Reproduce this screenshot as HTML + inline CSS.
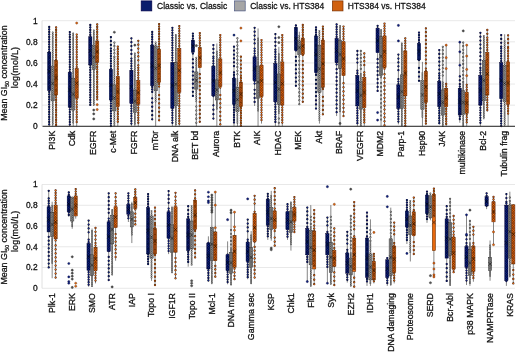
<!DOCTYPE html>
<html><head><meta charset="utf-8"><title>Figure</title>
<style>
html,body{margin:0;padding:0;background:#fff}
body{width:520px;height:352px;overflow:hidden}
svg{display:block}
.t{font-family:"Liberation Sans",Arial,Helvetica,sans-serif;font-size:8.4px;fill:#111}
.x{font-family:"Liberation Sans",Arial,Helvetica,sans-serif;font-size:8.75px;fill:#111}
.y{font-family:"Liberation Sans",Arial,Helvetica,sans-serif;font-size:8.87px;fill:#111}
.l{font-family:"Liberation Sans",Arial,Helvetica,sans-serif;font-size:9.7px;fill:#111}
path{fill:none;stroke-linecap:round}
.n{stroke:#0e2388;stroke-width:1.35}.no{stroke:#00001a;stroke-width:2.25}
.g{stroke:#c8c8c8;stroke-width:.95}.go{stroke:#303030;stroke-width:1.8}
.h{stroke:#a8a8a8;stroke-width:1.2}.ho{stroke:#303030;stroke-width:2.1}
.e{stroke:#ee6c10;stroke-width:1.35}.eo{stroke:#3a1500;stroke-width:2.25}
text{stroke:#111;stroke-width:.28px}
</style></head><body>
<svg width="520" height="352" viewBox="0 0 520 352">
<defs><filter id="b" x="0" y="0" width="520" height="352" filterUnits="userSpaceOnUse"><feGaussianBlur stdDeviation=".32"/></filter></defs>
<rect x="141.2" y="0.9" width="10.6" height="10" fill="#0a1d6c" stroke="#00004a" stroke-width=".7"/>
<text transform="translate(157.0,9.2) scale(.875,1)" class="l">Classic vs. Classic</text>
<rect x="234.6" y="0.9" width="10.6" height="10" fill="#a6a6a6" stroke="#4a5680" stroke-width=".7"/>
<text transform="translate(250.2,9.2) scale(.875,1)" class="l">Classic vs. HTS384</text>
<rect x="332.4" y="0.9" width="10.6" height="10" fill="#d0600f" stroke="#7a3000" stroke-width=".7"/>
<text transform="translate(347.8,9.2) scale(.875,1)" class="l">HTS384 vs. HTS384</text>
<g filter="url(#b)">
<line x1="42.0" x2="515.0" y1="126.29" y2="126.29" stroke="#e2e2e2" stroke-width=".8"/>
<line x1="42.0" x2="515.0" y1="105.17" y2="105.17" stroke="#e2e2e2" stroke-width=".8"/>
<line x1="42.0" x2="515.0" y1="84.05" y2="84.05" stroke="#e2e2e2" stroke-width=".8"/>
<line x1="42.0" x2="515.0" y1="62.93" y2="62.93" stroke="#e2e2e2" stroke-width=".8"/>
<line x1="42.0" x2="515.0" y1="41.82" y2="41.82" stroke="#e2e2e2" stroke-width=".8"/>
<line x1="42.0" x2="515.0" y1="20.70" y2="20.70" stroke="#e2e2e2" stroke-width=".8"/>
<line x1="42.0" x2="42.0" y1="20.70" y2="126.29" stroke="#d8d8d8" stroke-width=".8"/>
<text x="37.6" y="129.19" text-anchor="end" class="t">0</text>
<text x="37.6" y="108.07" text-anchor="end" class="t">0.2</text>
<text x="37.6" y="86.95" text-anchor="end" class="t">0.4</text>
<text x="37.6" y="65.83" text-anchor="end" class="t">0.6</text>
<text x="37.6" y="44.72" text-anchor="end" class="t">0.8</text>
<text x="37.6" y="23.60" text-anchor="end" class="t">1</text>
<line x1="49.20" x2="49.20" y1="26.92" y2="126.29" stroke="#222" stroke-width=".55"/>
<rect x="47.58" y="52.19" width="3.25" height="38.25" fill="#0c2080" stroke="#00002a" stroke-width=".45"/>
<path d="M49.2 26.9V124.5" class="no" stroke-dasharray="0 2.50"/>
<path d="M49.2 26.9V124.5" class="n" stroke-dasharray="0 2.50"/>
<path d="M47.80 69.71l2.8 3.2m0 -3.2l-2.8 3.2" stroke="#000" stroke-width=".5" opacity=".85"/>
<line x1="52.65" x2="52.65" y1="32.45" y2="126.29" stroke="#222" stroke-width=".55"/>
<rect x="51.03" y="66.09" width="3.25" height="34.74" fill="#9c9c9c" stroke="#1a1a1a" stroke-width=".45"/>
<path d="M52.7 32.5V125.6" class="go" stroke-dasharray="0 1.90"/>
<path d="M52.7 32.5V125.6" class="g" stroke-dasharray="0 1.90"/>
<path d="M51.25 81.86l2.8 3.2m0 -3.2l-2.8 3.2" stroke="#000" stroke-width=".5" opacity=".85"/>
<line x1="56.10" x2="56.10" y1="27.43" y2="126.29" stroke="#222" stroke-width=".55"/>
<rect x="54.48" y="60.56" width="3.25" height="34.40" fill="#e6670f" stroke="#4a1c00" stroke-width=".45"/>
<path d="M56.1 27.4V125.0" class="eo" stroke-dasharray="0 2.50"/>
<path d="M56.1 27.4V125.0" class="e" stroke-dasharray="0 2.50"/>
<path d="M54.70 76.16l2.8 3.2m0 -3.2l-2.8 3.2" stroke="#000" stroke-width=".5" opacity=".85"/>
<text transform="translate(54.75,130.79) rotate(-90) scale(1,1.06)" text-anchor="end" class="x" font-size="8.42">PI3K</text>
<line x1="69.80" x2="69.80" y1="32.12" y2="126.29" stroke="#222" stroke-width=".55"/>
<rect x="68.17" y="72.35" width="3.25" height="34.84" fill="#0c2080" stroke="#00002a" stroke-width=".45"/>
<path d="M69.8 32.1V124.7" class="no" stroke-dasharray="0 2.50"/>
<path d="M69.8 32.1V124.7" class="n" stroke-dasharray="0 2.50"/>
<path d="M68.40 88.17l2.8 3.2m0 -3.2l-2.8 3.2" stroke="#000" stroke-width=".5" opacity=".85"/>
<line x1="73.25" x2="73.25" y1="33.29" y2="126.29" stroke="#222" stroke-width=".55"/>
<rect x="71.62" y="78.21" width="3.25" height="31.83" fill="#9c9c9c" stroke="#1a1a1a" stroke-width=".45"/>
<path d="M73.2 33.3V124.5" class="go" stroke-dasharray="0 1.90"/>
<path d="M73.2 33.3V124.5" class="g" stroke-dasharray="0 1.90"/>
<path d="M71.85 92.53l2.8 3.2m0 -3.2l-2.8 3.2" stroke="#000" stroke-width=".5" opacity=".85"/>
<line x1="76.70" x2="76.70" y1="34.46" y2="126.29" stroke="#222" stroke-width=".55"/>
<rect x="75.08" y="68.60" width="3.25" height="29.71" fill="#e6670f" stroke="#4a1c00" stroke-width=".45"/>
<path d="M76.7 34.5V124.5" class="eo" stroke-dasharray="0 2.50"/>
<path d="M76.7 34.5V124.5" class="e" stroke-dasharray="0 2.50"/>
<circle cx="76.70" cy="23.04" r="1.1" fill="#e6670f" stroke="#4a1c00" stroke-width=".35"/>
<path d="M75.30 81.86l2.8 3.2m0 -3.2l-2.8 3.2" stroke="#000" stroke-width=".5" opacity=".85"/>
<text transform="translate(75.35,130.79) rotate(-90) scale(1,1.06)" text-anchor="end" class="x" font-size="8.42">Cdk</text>
<line x1="90.30" x2="90.30" y1="24.91" y2="105.15" stroke="#222" stroke-width=".55"/>
<rect x="88.67" y="36.78" width="3.25" height="28.14" fill="#0c2080" stroke="#00002a" stroke-width=".45"/>
<path d="M90.3 24.9V105.0" class="no" stroke-dasharray="0 2.50"/>
<path d="M90.3 24.9V105.0" class="n" stroke-dasharray="0 2.50"/>
<path d="M88.90 49.25l2.8 3.2m0 -3.2l-2.8 3.2" stroke="#000" stroke-width=".5" opacity=".85"/>
<line x1="93.75" x2="93.75" y1="30.44" y2="105.99" stroke="#222" stroke-width=".55"/>
<rect x="92.12" y="45.15" width="3.25" height="24.29" fill="#9c9c9c" stroke="#1a1a1a" stroke-width=".45"/>
<path d="M93.8 30.4V104.6" class="go" stroke-dasharray="0 1.90"/>
<path d="M93.8 30.4V104.6" class="g" stroke-dasharray="0 1.90"/>
<circle cx="93.75" cy="110.04" r="1.1" fill="#555" stroke="#1a1a1a" stroke-width=".35"/>
<circle cx="93.75" cy="113.89" r="1.1" fill="#555" stroke="#1a1a1a" stroke-width=".35"/>
<circle cx="93.75" cy="118.92" r="1.1" fill="#555" stroke="#1a1a1a" stroke-width=".35"/>
<path d="M92.35 55.69l2.8 3.2m0 -3.2l-2.8 3.2" stroke="#000" stroke-width=".5" opacity=".85"/>
<line x1="97.20" x2="97.20" y1="24.41" y2="100.13" stroke="#222" stroke-width=".55"/>
<rect x="95.58" y="40.96" width="3.25" height="21.27" fill="#e6670f" stroke="#4a1c00" stroke-width=".45"/>
<path d="M97.2 24.4V99.5" class="eo" stroke-dasharray="0 2.50"/>
<path d="M97.2 24.4V99.5" class="e" stroke-dasharray="0 2.50"/>
<circle cx="97.20" cy="104.68" r="1.1" fill="#e6670f" stroke="#4a1c00" stroke-width=".35"/>
<circle cx="97.20" cy="109.54" r="1.1" fill="#e6670f" stroke="#4a1c00" stroke-width=".35"/>
<path d="M95.80 50.00l2.8 3.2m0 -3.2l-2.8 3.2" stroke="#000" stroke-width=".5" opacity=".85"/>
<text transform="translate(95.85,130.79) rotate(-90) scale(1,1.06)" text-anchor="end" class="x" font-size="8.42">EGFR</text>
<line x1="110.90" x2="110.90" y1="37.14" y2="126.29" stroke="#222" stroke-width=".55"/>
<rect x="109.28" y="69.44" width="3.25" height="30.55" fill="#0c2080" stroke="#00002a" stroke-width=".45"/>
<path d="M110.9 37.1V45.0" class="no" stroke-dasharray="0 3.90"/>
<path d="M110.9 37.1V45.0" class="n" stroke-dasharray="0 3.90"/>
<path d="M110.9 48.5V126.1" class="no" stroke-dasharray="0 2.50"/>
<path d="M110.9 48.5V126.1" class="n" stroke-dasharray="0 2.50"/>
<path d="M109.50 83.11l2.8 3.2m0 -3.2l-2.8 3.2" stroke="#000" stroke-width=".5" opacity=".85"/>
<line x1="114.35" x2="114.35" y1="42.50" y2="126.29" stroke="#222" stroke-width=".55"/>
<rect x="112.73" y="84.91" width="3.25" height="25.96" fill="#9c9c9c" stroke="#1a1a1a" stroke-width=".45"/>
<path d="M114.4 42.5V57.0" class="ho" stroke-dasharray="0 3.60"/>
<path d="M114.4 42.5V57.0" class="h" stroke-dasharray="0 3.60"/>
<path d="M114.4 58.6V125.1" class="go" stroke-dasharray="0 1.90"/>
<path d="M114.4 58.6V125.1" class="g" stroke-dasharray="0 1.90"/>
<circle cx="114.35" cy="32.25" r="1.1" fill="#555" stroke="#1a1a1a" stroke-width=".35"/>
<path d="M112.95 96.29l2.8 3.2m0 -3.2l-2.8 3.2" stroke="#000" stroke-width=".5" opacity=".85"/>
<line x1="117.80" x2="117.80" y1="46.69" y2="126.29" stroke="#222" stroke-width=".55"/>
<rect x="116.18" y="76.54" width="3.25" height="30.15" fill="#e6670f" stroke="#4a1c00" stroke-width=".45"/>
<path d="M117.8 46.7V124.2" class="eo" stroke-dasharray="0 2.50"/>
<path d="M117.8 46.7V124.2" class="e" stroke-dasharray="0 2.50"/>
<path d="M116.40 90.01l2.8 3.2m0 -3.2l-2.8 3.2" stroke="#000" stroke-width=".5" opacity=".85"/>
<text transform="translate(116.45,130.79) rotate(-90) scale(1,1.06)" text-anchor="end" class="x" font-size="8.42">c-Met</text>
<line x1="131.40" x2="131.40" y1="38.31" y2="126.29" stroke="#222" stroke-width=".55"/>
<rect x="129.78" y="70.28" width="3.25" height="33.06" fill="#0c2080" stroke="#00002a" stroke-width=".45"/>
<path d="M131.4 38.3V54.0" class="no" stroke-dasharray="0 3.90"/>
<path d="M131.4 38.3V54.0" class="n" stroke-dasharray="0 3.90"/>
<path d="M131.4 58.6V126.1" class="no" stroke-dasharray="0 2.50"/>
<path d="M131.4 58.6V126.1" class="n" stroke-dasharray="0 2.50"/>
<path d="M130.00 85.21l2.8 3.2m0 -3.2l-2.8 3.2" stroke="#000" stroke-width=".5" opacity=".85"/>
<line x1="134.85" x2="134.85" y1="53.39" y2="126.29" stroke="#222" stroke-width=".55"/>
<rect x="133.22" y="89.94" width="3.25" height="22.61" fill="#9c9c9c" stroke="#1a1a1a" stroke-width=".45"/>
<path d="M134.8 53.4V125.6" class="go" stroke-dasharray="0 1.90"/>
<path d="M134.8 53.4V125.6" class="g" stroke-dasharray="0 1.90"/>
<circle cx="134.85" cy="45.15" r="1.1" fill="#555" stroke="#1a1a1a" stroke-width=".35"/>
<path d="M133.45 99.64l2.8 3.2m0 -3.2l-2.8 3.2" stroke="#000" stroke-width=".5" opacity=".85"/>
<line x1="138.30" x2="138.30" y1="40.83" y2="126.29" stroke="#222" stroke-width=".55"/>
<rect x="136.68" y="80.73" width="3.25" height="23.45" fill="#e6670f" stroke="#4a1c00" stroke-width=".45"/>
<path d="M138.3 40.8V60.4" class="eo" stroke-dasharray="0 3.90"/>
<path d="M138.3 40.8V60.4" class="e" stroke-dasharray="0 3.90"/>
<path d="M138.3 65.3V125.3" class="eo" stroke-dasharray="0 2.50"/>
<path d="M138.3 65.3V125.3" class="e" stroke-dasharray="0 2.50"/>
<path d="M136.90 90.85l2.8 3.2m0 -3.2l-2.8 3.2" stroke="#000" stroke-width=".5" opacity=".85"/>
<text transform="translate(136.95,130.79) rotate(-90) scale(1,1.06)" text-anchor="end" class="x" font-size="8.42">FGFR</text>
<line x1="152.20" x2="152.20" y1="31.95" y2="119.39" stroke="#222" stroke-width=".55"/>
<rect x="150.57" y="45.15" width="3.25" height="40.60" fill="#0c2080" stroke="#00002a" stroke-width=".45"/>
<path d="M152.2 31.9V92.0" class="no" stroke-dasharray="0 2.50"/>
<path d="M152.2 31.9V92.0" class="n" stroke-dasharray="0 2.50"/>
<path d="M152.2 98.3V119.4" class="no" stroke-dasharray="0 4.21"/>
<path d="M152.2 98.3V119.4" class="n" stroke-dasharray="0 4.21"/>
<path d="M150.80 63.85l2.8 3.2m0 -3.2l-2.8 3.2" stroke="#000" stroke-width=".5" opacity=".85"/>
<line x1="155.65" x2="155.65" y1="42.50" y2="126.29" stroke="#222" stroke-width=".55"/>
<rect x="154.02" y="45.99" width="3.25" height="44.79" fill="#9c9c9c" stroke="#1a1a1a" stroke-width=".45"/>
<path d="M155.6 42.5V101.5" class="go" stroke-dasharray="0 1.90"/>
<path d="M155.6 42.5V101.5" class="g" stroke-dasharray="0 1.90"/>
<path d="M154.25 66.78l2.8 3.2m0 -3.2l-2.8 3.2" stroke="#000" stroke-width=".5" opacity=".85"/>
<line x1="159.10" x2="159.10" y1="24.08" y2="120.23" stroke="#222" stroke-width=".55"/>
<rect x="157.47" y="49.34" width="3.25" height="33.06" fill="#e6670f" stroke="#4a1c00" stroke-width=".45"/>
<path d="M159.1 24.1V89.1" class="eo" stroke-dasharray="0 2.50"/>
<path d="M159.1 24.1V89.1" class="e" stroke-dasharray="0 2.50"/>
<path d="M159.1 95.0V120.3" class="eo" stroke-dasharray="0 4.21"/>
<path d="M159.1 95.0V120.3" class="e" stroke-dasharray="0 4.21"/>
<path d="M157.70 64.27l2.8 3.2m0 -3.2l-2.8 3.2" stroke="#000" stroke-width=".5" opacity=".85"/>
<text transform="translate(157.75,130.79) rotate(-90) scale(1,1.06)" text-anchor="end" class="x" font-size="8.42">mTor</text>
<line x1="172.40" x2="172.40" y1="27.76" y2="126.29" stroke="#222" stroke-width=".55"/>
<rect x="170.78" y="62.74" width="3.25" height="45.62" fill="#0c2080" stroke="#00002a" stroke-width=".45"/>
<path d="M172.4 27.8V125.3" class="no" stroke-dasharray="0 2.50"/>
<path d="M172.4 27.8V125.3" class="n" stroke-dasharray="0 2.50"/>
<path d="M171.00 83.95l2.8 3.2m0 -3.2l-2.8 3.2" stroke="#000" stroke-width=".5" opacity=".85"/>
<line x1="175.85" x2="175.85" y1="34.96" y2="126.29" stroke="#222" stroke-width=".55"/>
<rect x="174.22" y="62.74" width="3.25" height="43.11" fill="#9c9c9c" stroke="#1a1a1a" stroke-width=".45"/>
<path d="M175.8 35.0V126.2" class="go" stroke-dasharray="0 1.90"/>
<path d="M175.8 35.0V126.2" class="g" stroke-dasharray="0 1.90"/>
<path d="M174.45 82.69l2.8 3.2m0 -3.2l-2.8 3.2" stroke="#000" stroke-width=".5" opacity=".85"/>
<line x1="179.30" x2="179.30" y1="26.09" y2="126.29" stroke="#222" stroke-width=".55"/>
<rect x="177.68" y="48.50" width="3.25" height="43.95" fill="#e6670f" stroke="#4a1c00" stroke-width=".45"/>
<path d="M179.3 26.1V126.1" class="eo" stroke-dasharray="0 2.50"/>
<path d="M179.3 26.1V126.1" class="e" stroke-dasharray="0 2.50"/>
<path d="M177.90 68.88l2.8 3.2m0 -3.2l-2.8 3.2" stroke="#000" stroke-width=".5" opacity=".85"/>
<text transform="translate(177.95,130.79) rotate(-90) scale(1,1.06)" text-anchor="end" class="x" font-size="8.42">DNA alk</text>
<line x1="192.90" x2="192.90" y1="33.62" y2="95.94" stroke="#222" stroke-width=".55"/>
<rect x="191.28" y="40.13" width="3.25" height="12.06" fill="#0c2080" stroke="#00002a" stroke-width=".45"/>
<path d="M192.9 33.6V53.7" class="no" stroke-dasharray="0 2.50"/>
<path d="M192.9 33.6V53.7" class="n" stroke-dasharray="0 2.50"/>
<path d="M192.9 59.3V96.0" class="no" stroke-dasharray="0 4.07"/>
<path d="M192.9 59.3V96.0" class="n" stroke-dasharray="0 4.07"/>
<path d="M191.50 44.56l2.8 3.2m0 -3.2l-2.8 3.2" stroke="#000" stroke-width=".5" opacity=".85"/>
<line x1="196.35" x2="196.35" y1="57.58" y2="126.29" stroke="#222" stroke-width=".55"/>
<rect x="194.72" y="71.95" width="3.25" height="17.15" fill="#9c9c9c" stroke="#1a1a1a" stroke-width=".45"/>
<path d="M196.3 57.6V101.3" class="go" stroke-dasharray="0 1.90"/>
<path d="M196.3 57.6V101.3" class="g" stroke-dasharray="0 1.90"/>
<path d="M196.3 106.5V122.8" class="ho" stroke-dasharray="0 4.05"/>
<path d="M196.3 106.5V122.8" class="h" stroke-dasharray="0 4.05"/>
<circle cx="196.35" cy="45.65" r="1.1" fill="#555" stroke="#1a1a1a" stroke-width=".35"/>
<path d="M194.95 78.93l2.8 3.2m0 -3.2l-2.8 3.2" stroke="#000" stroke-width=".5" opacity=".85"/>
<line x1="199.80" x2="199.80" y1="32.95" y2="121.90" stroke="#222" stroke-width=".55"/>
<rect x="198.18" y="47.66" width="3.25" height="20.10" fill="#e6670f" stroke="#4a1c00" stroke-width=".45"/>
<path d="M199.8 33.0V68.0" class="eo" stroke-dasharray="0 2.50"/>
<path d="M199.8 33.0V68.0" class="e" stroke-dasharray="0 2.50"/>
<path d="M199.8 74.2V122.0" class="eo" stroke-dasharray="0 3.97"/>
<path d="M199.8 74.2V122.0" class="e" stroke-dasharray="0 3.97"/>
<path d="M198.40 56.11l2.8 3.2m0 -3.2l-2.8 3.2" stroke="#000" stroke-width=".5" opacity=".85"/>
<text transform="translate(198.45,130.79) rotate(-90) scale(1,1.06)" text-anchor="end" class="x" font-size="8.42">BET bd</text>
<line x1="213.40" x2="213.40" y1="45.01" y2="118.55" stroke="#222" stroke-width=".55"/>
<rect x="211.78" y="66.09" width="3.25" height="29.71" fill="#0c2080" stroke="#00002a" stroke-width=".45"/>
<path d="M213.4 45.0V56.8" class="no" stroke-dasharray="0 3.90"/>
<path d="M213.4 45.0V56.8" class="n" stroke-dasharray="0 3.90"/>
<path d="M213.4 58.6V98.6" class="no" stroke-dasharray="0 2.50"/>
<path d="M213.4 58.6V98.6" class="n" stroke-dasharray="0 2.50"/>
<path d="M213.4 105.3V118.6" class="no" stroke-dasharray="0 4.43"/>
<path d="M213.4 105.3V118.6" class="n" stroke-dasharray="0 4.43"/>
<path d="M212.00 79.34l2.8 3.2m0 -3.2l-2.8 3.2" stroke="#000" stroke-width=".5" opacity=".85"/>
<line x1="216.85" x2="216.85" y1="43.48" y2="126.29" stroke="#222" stroke-width=".55"/>
<rect x="215.22" y="79.89" width="3.25" height="20.10" fill="#9c9c9c" stroke="#1a1a1a" stroke-width=".45"/>
<path d="M216.8 51.7V108.8" class="go" stroke-dasharray="0 1.90"/>
<path d="M216.8 51.7V108.8" class="g" stroke-dasharray="0 1.90"/>
<path d="M215.45 88.34l2.8 3.2m0 -3.2l-2.8 3.2" stroke="#000" stroke-width=".5" opacity=".85"/>
<line x1="220.30" x2="220.30" y1="34.96" y2="124.41" stroke="#222" stroke-width=".55"/>
<rect x="218.68" y="58.89" width="3.25" height="27.70" fill="#e6670f" stroke="#4a1c00" stroke-width=".45"/>
<path d="M220.3 35.0V90.0" class="eo" stroke-dasharray="0 2.50"/>
<path d="M220.3 35.0V90.0" class="e" stroke-dasharray="0 2.50"/>
<path d="M220.3 95.0V124.5" class="eo" stroke-dasharray="0 4.20"/>
<path d="M220.3 95.0V124.5" class="e" stroke-dasharray="0 4.20"/>
<path d="M218.90 71.14l2.8 3.2m0 -3.2l-2.8 3.2" stroke="#000" stroke-width=".5" opacity=".85"/>
<text transform="translate(218.95,130.79) rotate(-90) scale(1,1.06)" text-anchor="end" class="x" font-size="8.42">Aurora</text>
<line x1="234.00" x2="234.00" y1="46.69" y2="126.29" stroke="#222" stroke-width=".55"/>
<rect x="232.38" y="78.21" width="3.25" height="25.96" fill="#0c2080" stroke="#00002a" stroke-width=".45"/>
<path d="M234.0 46.7V70.1" class="no" stroke-dasharray="0 3.90"/>
<path d="M234.0 46.7V70.1" class="n" stroke-dasharray="0 3.90"/>
<path d="M234.0 72.4V124.9" class="no" stroke-dasharray="0 2.50"/>
<path d="M234.0 72.4V124.9" class="n" stroke-dasharray="0 2.50"/>
<circle cx="234.00" cy="35.10" r="1.1" fill="#0c2080" stroke="#00002a" stroke-width=".35"/>
<path d="M232.60 89.59l2.8 3.2m0 -3.2l-2.8 3.2" stroke="#000" stroke-width=".5" opacity=".85"/>
<line x1="237.45" x2="237.45" y1="38.31" y2="126.29" stroke="#222" stroke-width=".55"/>
<rect x="235.82" y="87.43" width="3.25" height="24.29" fill="#9c9c9c" stroke="#1a1a1a" stroke-width=".45"/>
<path d="M237.4 38.3V74.4" class="ho" stroke-dasharray="0 3.60"/>
<path d="M237.4 38.3V74.4" class="h" stroke-dasharray="0 3.60"/>
<path d="M237.4 79.1V124.7" class="go" stroke-dasharray="0 1.90"/>
<path d="M237.4 79.1V124.7" class="g" stroke-dasharray="0 1.90"/>
<path d="M236.05 97.97l2.8 3.2m0 -3.2l-2.8 3.2" stroke="#000" stroke-width=".5" opacity=".85"/>
<line x1="240.90" x2="240.90" y1="56.74" y2="126.29" stroke="#222" stroke-width=".55"/>
<rect x="239.28" y="82.07" width="3.25" height="24.62" fill="#e6670f" stroke="#4a1c00" stroke-width=".45"/>
<path d="M240.9 56.7V72.4" class="eo" stroke-dasharray="0 3.90"/>
<path d="M240.9 56.7V72.4" class="e" stroke-dasharray="0 3.90"/>
<path d="M240.9 75.7V125.8" class="eo" stroke-dasharray="0 2.50"/>
<path d="M240.9 75.7V125.8" class="e" stroke-dasharray="0 2.50"/>
<circle cx="240.90" cy="28.07" r="1.1" fill="#e6670f" stroke="#4a1c00" stroke-width=".35"/>
<circle cx="240.90" cy="40.96" r="1.1" fill="#e6670f" stroke="#4a1c00" stroke-width=".35"/>
<path d="M239.50 92.78l2.8 3.2m0 -3.2l-2.8 3.2" stroke="#000" stroke-width=".5" opacity=".85"/>
<text transform="translate(239.55,130.79) rotate(-90) scale(1,1.06)" text-anchor="end" class="x" font-size="8.42">BTK</text>
<line x1="254.60" x2="254.60" y1="27.76" y2="105.99" stroke="#222" stroke-width=".55"/>
<rect x="252.97" y="56.88" width="3.25" height="23.85" fill="#0c2080" stroke="#00002a" stroke-width=".45"/>
<path d="M254.6 27.8V43.4" class="no" stroke-dasharray="0 3.90"/>
<path d="M254.6 27.8V43.4" class="n" stroke-dasharray="0 3.90"/>
<path d="M254.6 48.5V83.6" class="no" stroke-dasharray="0 2.50"/>
<path d="M254.6 48.5V83.6" class="n" stroke-dasharray="0 2.50"/>
<path d="M254.6 89.8V106.0" class="no" stroke-dasharray="0 4.05"/>
<path d="M254.6 89.8V106.0" class="n" stroke-dasharray="0 4.05"/>
<path d="M253.20 67.20l2.8 3.2m0 -3.2l-2.8 3.2" stroke="#000" stroke-width=".5" opacity=".85"/>
<line x1="258.05" x2="258.05" y1="28.40" y2="126.29" stroke="#222" stroke-width=".55"/>
<rect x="256.43" y="66.09" width="3.25" height="32.22" fill="#9c9c9c" stroke="#1a1a1a" stroke-width=".45"/>
<path d="M258.1 38.3V110.6" class="go" stroke-dasharray="0 1.90"/>
<path d="M258.1 38.3V110.6" class="g" stroke-dasharray="0 1.90"/>
<path d="M256.65 80.60l2.8 3.2m0 -3.2l-2.8 3.2" stroke="#000" stroke-width=".5" opacity=".85"/>
<line x1="261.50" x2="261.50" y1="39.99" y2="123.58" stroke="#222" stroke-width=".55"/>
<rect x="259.88" y="65.25" width="3.25" height="31.39" fill="#e6670f" stroke="#4a1c00" stroke-width=".45"/>
<path d="M261.5 40.0V122.5" class="eo" stroke-dasharray="0 2.50"/>
<path d="M261.5 40.0V122.5" class="e" stroke-dasharray="0 2.50"/>
<path d="M260.10 79.34l2.8 3.2m0 -3.2l-2.8 3.2" stroke="#000" stroke-width=".5" opacity=".85"/>
<text transform="translate(260.15,130.79) rotate(-90) scale(1,1.06)" text-anchor="end" class="x" font-size="8.42">AIK</text>
<line x1="275.40" x2="275.40" y1="34.13" y2="126.29" stroke="#222" stroke-width=".55"/>
<rect x="273.77" y="63.58" width="3.25" height="38.09" fill="#0c2080" stroke="#00002a" stroke-width=".45"/>
<path d="M275.4 34.1V49.8" class="no" stroke-dasharray="0 3.90"/>
<path d="M275.4 34.1V49.8" class="n" stroke-dasharray="0 3.90"/>
<path d="M275.4 51.9V124.4" class="no" stroke-dasharray="0 2.50"/>
<path d="M275.4 51.9V124.4" class="n" stroke-dasharray="0 2.50"/>
<path d="M274.00 81.02l2.8 3.2m0 -3.2l-2.8 3.2" stroke="#000" stroke-width=".5" opacity=".85"/>
<line x1="278.85" x2="278.85" y1="46.83" y2="126.29" stroke="#222" stroke-width=".55"/>
<rect x="277.22" y="74.03" width="3.25" height="30.15" fill="#9c9c9c" stroke="#1a1a1a" stroke-width=".45"/>
<path d="M278.8 54.2V113.2" class="go" stroke-dasharray="0 1.90"/>
<path d="M278.8 54.2V113.2" class="g" stroke-dasharray="0 1.90"/>
<path d="M278.8 118.5V122.8" class="ho" stroke-dasharray="0 4.26"/>
<path d="M278.8 118.5V122.8" class="h" stroke-dasharray="0 4.26"/>
<circle cx="278.85" cy="26.73" r="1.1" fill="#555" stroke="#1a1a1a" stroke-width=".35"/>
<circle cx="278.85" cy="37.61" r="1.1" fill="#555" stroke="#1a1a1a" stroke-width=".35"/>
<circle cx="278.85" cy="42.64" r="1.1" fill="#555" stroke="#1a1a1a" stroke-width=".35"/>
<path d="M277.45 87.50l2.8 3.2m0 -3.2l-2.8 3.2" stroke="#000" stroke-width=".5" opacity=".85"/>
<line x1="282.30" x2="282.30" y1="34.96" y2="126.29" stroke="#222" stroke-width=".55"/>
<rect x="280.67" y="61.90" width="3.25" height="43.11" fill="#e6670f" stroke="#4a1c00" stroke-width=".45"/>
<path d="M282.3 35.0V125.0" class="eo" stroke-dasharray="0 2.50"/>
<path d="M282.3 35.0V125.0" class="e" stroke-dasharray="0 2.50"/>
<path d="M280.90 81.86l2.8 3.2m0 -3.2l-2.8 3.2" stroke="#000" stroke-width=".5" opacity=".85"/>
<text transform="translate(280.95,130.79) rotate(-90) scale(1,1.06)" text-anchor="end" class="x" font-size="8.42">HDAC</text>
<line x1="295.90" x2="295.90" y1="25.42" y2="85.89" stroke="#222" stroke-width=".55"/>
<rect x="294.27" y="27.56" width="3.25" height="22.61" fill="#0c2080" stroke="#00002a" stroke-width=".45"/>
<path d="M295.9 25.4V50.5" class="no" stroke-dasharray="0 2.50"/>
<path d="M295.9 25.4V50.5" class="n" stroke-dasharray="0 2.50"/>
<path d="M295.9 56.8V85.9" class="no" stroke-dasharray="0 4.15"/>
<path d="M295.9 56.8V85.9" class="n" stroke-dasharray="0 4.15"/>
<path d="M294.50 37.27l2.8 3.2m0 -3.2l-2.8 3.2" stroke="#000" stroke-width=".5" opacity=".85"/>
<line x1="299.35" x2="299.35" y1="31.75" y2="104.31" stroke="#222" stroke-width=".55"/>
<rect x="297.72" y="40.96" width="3.25" height="13.40" fill="#9c9c9c" stroke="#1a1a1a" stroke-width=".45"/>
<path d="M299.3 35.8V56.8" class="go" stroke-dasharray="0 1.90"/>
<path d="M299.3 35.8V56.8" class="g" stroke-dasharray="0 1.90"/>
<path d="M299.3 60.8V104.4" class="ho" stroke-dasharray="0 3.95"/>
<path d="M299.3 60.8V104.4" class="h" stroke-dasharray="0 3.95"/>
<path d="M297.95 46.06l2.8 3.2m0 -3.2l-2.8 3.2" stroke="#000" stroke-width=".5" opacity=".85"/>
<line x1="302.80" x2="302.80" y1="24.91" y2="101.80" stroke="#222" stroke-width=".55"/>
<rect x="301.17" y="38.45" width="3.25" height="15.91" fill="#e6670f" stroke="#4a1c00" stroke-width=".45"/>
<path d="M302.8 24.9V55.0" class="eo" stroke-dasharray="0 2.50"/>
<path d="M302.8 24.9V55.0" class="e" stroke-dasharray="0 2.50"/>
<path d="M302.8 61.0V101.9" class="eo" stroke-dasharray="0 4.08"/>
<path d="M302.8 61.0V101.9" class="e" stroke-dasharray="0 4.08"/>
<path d="M301.40 44.81l2.8 3.2m0 -3.2l-2.8 3.2" stroke="#000" stroke-width=".5" opacity=".85"/>
<text transform="translate(301.45,130.79) rotate(-90) scale(1,1.06)" text-anchor="end" class="x" font-size="8.42">MEK</text>
<line x1="316.00" x2="316.00" y1="27.43" y2="108.50" stroke="#222" stroke-width=".55"/>
<rect x="314.38" y="35.94" width="3.25" height="36.41" fill="#0c2080" stroke="#00002a" stroke-width=".45"/>
<path d="M316.0 27.4V75.0" class="no" stroke-dasharray="0 2.50"/>
<path d="M316.0 27.4V75.0" class="n" stroke-dasharray="0 2.50"/>
<path d="M316.0 79.8V108.6" class="no" stroke-dasharray="0 4.10"/>
<path d="M316.0 79.8V108.6" class="n" stroke-dasharray="0 4.10"/>
<path d="M314.60 52.54l2.8 3.2m0 -3.2l-2.8 3.2" stroke="#000" stroke-width=".5" opacity=".85"/>
<line x1="319.45" x2="319.45" y1="30.78" y2="123.58" stroke="#222" stroke-width=".55"/>
<rect x="317.82" y="45.15" width="3.25" height="47.30" fill="#9c9c9c" stroke="#1a1a1a" stroke-width=".45"/>
<path d="M319.4 30.8V122.0" class="go" stroke-dasharray="0 1.90"/>
<path d="M319.4 30.8V122.0" class="g" stroke-dasharray="0 1.90"/>
<path d="M318.05 67.20l2.8 3.2m0 -3.2l-2.8 3.2" stroke="#000" stroke-width=".5" opacity=".85"/>
<line x1="322.90" x2="322.90" y1="26.59" y2="114.36" stroke="#222" stroke-width=".55"/>
<rect x="321.27" y="40.13" width="3.25" height="47.30" fill="#e6670f" stroke="#4a1c00" stroke-width=".45"/>
<path d="M322.9 26.6V91.6" class="eo" stroke-dasharray="0 2.50"/>
<path d="M322.9 26.6V91.6" class="e" stroke-dasharray="0 2.50"/>
<path d="M322.9 96.8V114.4" class="eo" stroke-dasharray="0 4.38"/>
<path d="M322.9 96.8V114.4" class="e" stroke-dasharray="0 4.38"/>
<path d="M321.50 62.18l2.8 3.2m0 -3.2l-2.8 3.2" stroke="#000" stroke-width=".5" opacity=".85"/>
<text transform="translate(321.55,130.79) rotate(-90) scale(1,1.06)" text-anchor="end" class="x" font-size="8.42">Akt</text>
<line x1="336.60" x2="336.60" y1="24.41" y2="116.04" stroke="#222" stroke-width=".55"/>
<rect x="334.98" y="38.45" width="3.25" height="24.29" fill="#0c2080" stroke="#00002a" stroke-width=".45"/>
<path d="M336.6 24.4V64.5" class="no" stroke-dasharray="0 2.50"/>
<path d="M336.6 24.4V64.5" class="n" stroke-dasharray="0 2.50"/>
<path d="M336.6 69.2V116.1" class="no" stroke-dasharray="0 3.91"/>
<path d="M336.6 69.2V116.1" class="n" stroke-dasharray="0 3.91"/>
<path d="M335.20 48.99l2.8 3.2m0 -3.2l-2.8 3.2" stroke="#000" stroke-width=".5" opacity=".85"/>
<line x1="340.05" x2="340.05" y1="25.75" y2="126.29" stroke="#222" stroke-width=".55"/>
<rect x="338.43" y="40.13" width="3.25" height="28.48" fill="#9c9c9c" stroke="#1a1a1a" stroke-width=".45"/>
<path d="M340.1 25.8V113.2" class="go" stroke-dasharray="0 1.90"/>
<path d="M340.1 25.8V113.2" class="g" stroke-dasharray="0 1.90"/>
<circle cx="340.05" cy="123.44" r="1.1" fill="#555" stroke="#1a1a1a" stroke-width=".35"/>
<path d="M338.65 52.76l2.8 3.2m0 -3.2l-2.8 3.2" stroke="#000" stroke-width=".5" opacity=".85"/>
<line x1="343.50" x2="343.50" y1="26.59" y2="116.04" stroke="#222" stroke-width=".55"/>
<rect x="341.88" y="41.80" width="3.25" height="33.90" fill="#e6670f" stroke="#4a1c00" stroke-width=".45"/>
<path d="M343.5 26.6V76.6" class="eo" stroke-dasharray="0 2.50"/>
<path d="M343.5 26.6V76.6" class="e" stroke-dasharray="0 2.50"/>
<path d="M343.5 83.2V116.1" class="eo" stroke-dasharray="0 4.11"/>
<path d="M343.5 83.2V116.1" class="e" stroke-dasharray="0 4.11"/>
<path d="M342.10 57.15l2.8 3.2m0 -3.2l-2.8 3.2" stroke="#000" stroke-width=".5" opacity=".85"/>
<text transform="translate(342.15,130.79) rotate(-90) scale(1,1.06)" text-anchor="end" class="x" font-size="8.42">BRAF</text>
<line x1="357.40" x2="357.40" y1="50.88" y2="126.29" stroke="#222" stroke-width=".55"/>
<rect x="355.77" y="75.70" width="3.25" height="30.15" fill="#0c2080" stroke="#00002a" stroke-width=".45"/>
<path d="M357.4 50.9V66.5" class="no" stroke-dasharray="0 3.90"/>
<path d="M357.4 50.9V66.5" class="n" stroke-dasharray="0 3.90"/>
<path d="M357.4 70.7V125.7" class="no" stroke-dasharray="0 2.50"/>
<path d="M357.4 70.7V125.7" class="n" stroke-dasharray="0 2.50"/>
<path d="M356.00 89.18l2.8 3.2m0 -3.2l-2.8 3.2" stroke="#000" stroke-width=".5" opacity=".85"/>
<line x1="360.85" x2="360.85" y1="50.88" y2="126.29" stroke="#222" stroke-width=".55"/>
<rect x="359.22" y="81.56" width="3.25" height="27.64" fill="#9c9c9c" stroke="#1a1a1a" stroke-width=".45"/>
<path d="M360.8 50.9V72.5" class="ho" stroke-dasharray="0 3.60"/>
<path d="M360.8 50.9V72.5" class="h" stroke-dasharray="0 3.60"/>
<path d="M360.8 74.0V125.4" class="go" stroke-dasharray="0 1.90"/>
<path d="M360.8 74.0V125.4" class="g" stroke-dasharray="0 1.90"/>
<path d="M359.45 93.78l2.8 3.2m0 -3.2l-2.8 3.2" stroke="#000" stroke-width=".5" opacity=".85"/>
<line x1="364.30" x2="364.30" y1="53.39" y2="126.29" stroke="#222" stroke-width=".55"/>
<rect x="362.67" y="77.38" width="3.25" height="30.15" fill="#e6670f" stroke="#4a1c00" stroke-width=".45"/>
<path d="M364.3 53.4V69.0" class="eo" stroke-dasharray="0 3.90"/>
<path d="M364.3 53.4V69.0" class="e" stroke-dasharray="0 3.90"/>
<path d="M364.3 72.4V124.9" class="eo" stroke-dasharray="0 2.50"/>
<path d="M364.3 72.4V124.9" class="e" stroke-dasharray="0 2.50"/>
<path d="M362.90 90.85l2.8 3.2m0 -3.2l-2.8 3.2" stroke="#000" stroke-width=".5" opacity=".85"/>
<text transform="translate(362.95,130.79) rotate(-90) scale(1,1.06)" text-anchor="end" class="x" font-size="8.42">VEGFR</text>
<line x1="377.60" x2="377.60" y1="25.75" y2="90.91" stroke="#222" stroke-width=".55"/>
<rect x="375.98" y="28.40" width="3.25" height="24.29" fill="#0c2080" stroke="#00002a" stroke-width=".45"/>
<path d="M377.6 25.8V53.3" class="no" stroke-dasharray="0 2.50"/>
<path d="M377.6 25.8V53.3" class="n" stroke-dasharray="0 2.50"/>
<path d="M377.6 59.2V91.0" class="no" stroke-dasharray="0 3.97"/>
<path d="M377.6 59.2V91.0" class="n" stroke-dasharray="0 3.97"/>
<circle cx="377.60" cy="112.55" r="1.1" fill="#0c2080" stroke="#00002a" stroke-width=".35"/>
<circle cx="377.60" cy="120.09" r="1.1" fill="#0c2080" stroke="#00002a" stroke-width=".35"/>
<path d="M376.20 38.94l2.8 3.2m0 -3.2l-2.8 3.2" stroke="#000" stroke-width=".5" opacity=".85"/>
<line x1="381.05" x2="381.05" y1="29.94" y2="126.29" stroke="#222" stroke-width=".55"/>
<rect x="379.43" y="36.78" width="3.25" height="38.92" fill="#9c9c9c" stroke="#1a1a1a" stroke-width=".45"/>
<path d="M381.1 29.9V77.5" class="go" stroke-dasharray="0 1.90"/>
<path d="M381.1 29.9V77.5" class="g" stroke-dasharray="0 1.90"/>
<path d="M381.1 83.1V123.6" class="ho" stroke-dasharray="0 4.05"/>
<path d="M381.1 83.1V123.6" class="h" stroke-dasharray="0 4.05"/>
<path d="M379.65 54.64l2.8 3.2m0 -3.2l-2.8 3.2" stroke="#000" stroke-width=".5" opacity=".85"/>
<line x1="384.50" x2="384.50" y1="23.74" y2="125.25" stroke="#222" stroke-width=".55"/>
<rect x="382.88" y="35.94" width="3.25" height="31.83" fill="#e6670f" stroke="#4a1c00" stroke-width=".45"/>
<path d="M384.5 23.7V68.8" class="eo" stroke-dasharray="0 2.50"/>
<path d="M384.5 23.7V68.8" class="e" stroke-dasharray="0 2.50"/>
<path d="M384.5 74.2V125.3" class="eo" stroke-dasharray="0 3.93"/>
<path d="M384.5 74.2V125.3" class="e" stroke-dasharray="0 3.93"/>
<path d="M383.10 50.25l2.8 3.2m0 -3.2l-2.8 3.2" stroke="#000" stroke-width=".5" opacity=".85"/>
<text transform="translate(383.15,130.79) rotate(-90) scale(1,1.06)" text-anchor="end" class="x" font-size="8.42">MDM2</text>
<line x1="398.40" x2="398.40" y1="54.56" y2="124.41" stroke="#222" stroke-width=".55"/>
<rect x="396.77" y="84.91" width="3.25" height="23.45" fill="#0c2080" stroke="#00002a" stroke-width=".45"/>
<path d="M398.4 54.6V74.1" class="no" stroke-dasharray="0 3.90"/>
<path d="M398.4 54.6V74.1" class="n" stroke-dasharray="0 3.90"/>
<path d="M398.4 79.1V124.1" class="no" stroke-dasharray="0 2.50"/>
<path d="M398.4 79.1V124.1" class="n" stroke-dasharray="0 2.50"/>
<circle cx="398.40" cy="25.39" r="1.1" fill="#0c2080" stroke="#00002a" stroke-width=".35"/>
<circle cx="398.40" cy="40.96" r="1.1" fill="#0c2080" stroke="#00002a" stroke-width=".35"/>
<path d="M397.00 95.04l2.8 3.2m0 -3.2l-2.8 3.2" stroke="#000" stroke-width=".5" opacity=".85"/>
<line x1="401.85" x2="401.85" y1="43.34" y2="126.29" stroke="#222" stroke-width=".55"/>
<rect x="400.22" y="74.86" width="3.25" height="33.50" fill="#9c9c9c" stroke="#1a1a1a" stroke-width=".45"/>
<path d="M401.8 43.3V125.1" class="go" stroke-dasharray="0 1.90"/>
<path d="M401.8 43.3V125.1" class="g" stroke-dasharray="0 1.90"/>
<path d="M400.45 90.01l2.8 3.2m0 -3.2l-2.8 3.2" stroke="#000" stroke-width=".5" opacity=".85"/>
<line x1="405.30" x2="405.30" y1="38.31" y2="126.29" stroke="#222" stroke-width=".55"/>
<rect x="403.67" y="51.01" width="3.25" height="44.79" fill="#e6670f" stroke="#4a1c00" stroke-width=".45"/>
<path d="M405.3 38.3V125.9" class="eo" stroke-dasharray="0 2.50"/>
<path d="M405.3 38.3V125.9" class="e" stroke-dasharray="0 2.50"/>
<path d="M403.90 71.81l2.8 3.2m0 -3.2l-2.8 3.2" stroke="#000" stroke-width=".5" opacity=".85"/>
<text transform="translate(403.95,130.79) rotate(-90) scale(1,1.06)" text-anchor="end" class="x" font-size="8.42">Parp-1</text>
<line x1="419.00" x2="419.00" y1="32.45" y2="80.86" stroke="#222" stroke-width=".55"/>
<rect x="417.38" y="43.48" width="3.25" height="16.42" fill="#0c2080" stroke="#00002a" stroke-width=".45"/>
<path d="M419.0 32.5V62.5" class="no" stroke-dasharray="0 2.50"/>
<path d="M419.0 32.5V62.5" class="n" stroke-dasharray="0 2.50"/>
<path d="M419.0 67.9V80.9" class="no" stroke-dasharray="0 4.32"/>
<path d="M419.0 67.9V80.9" class="n" stroke-dasharray="0 4.32"/>
<path d="M417.60 50.08l2.8 3.2m0 -3.2l-2.8 3.2" stroke="#000" stroke-width=".5" opacity=".85"/>
<line x1="422.45" x2="422.45" y1="61.90" y2="126.29" stroke="#222" stroke-width=".55"/>
<rect x="420.82" y="80.73" width="3.25" height="28.48" fill="#9c9c9c" stroke="#1a1a1a" stroke-width=".45"/>
<path d="M422.4 73.1V116.8" class="go" stroke-dasharray="0 1.90"/>
<path d="M422.4 73.1V116.8" class="g" stroke-dasharray="0 1.90"/>
<path d="M421.05 93.36l2.8 3.2m0 -3.2l-2.8 3.2" stroke="#000" stroke-width=".5" opacity=".85"/>
<line x1="425.90" x2="425.90" y1="28.26" y2="124.41" stroke="#222" stroke-width=".55"/>
<rect x="424.27" y="71.51" width="3.25" height="30.99" fill="#e6670f" stroke="#4a1c00" stroke-width=".45"/>
<path d="M425.9 28.3V63.4" class="eo" stroke-dasharray="0 3.90"/>
<path d="M425.9 28.3V63.4" class="e" stroke-dasharray="0 3.90"/>
<path d="M425.9 68.6V123.7" class="eo" stroke-dasharray="0 2.50"/>
<path d="M425.9 68.6V123.7" class="e" stroke-dasharray="0 2.50"/>
<path d="M424.50 85.41l2.8 3.2m0 -3.2l-2.8 3.2" stroke="#000" stroke-width=".5" opacity=".85"/>
<text transform="translate(424.55,130.79) rotate(-90) scale(1,1.06)" text-anchor="end" class="x" font-size="8.42">Hsp90</text>
<line x1="439.30" x2="439.30" y1="50.04" y2="124.41" stroke="#222" stroke-width=".55"/>
<rect x="437.68" y="81.56" width="3.25" height="25.13" fill="#0c2080" stroke="#00002a" stroke-width=".45"/>
<path d="M439.3 50.0V73.5" class="no" stroke-dasharray="0 3.90"/>
<path d="M439.3 50.0V73.5" class="n" stroke-dasharray="0 3.90"/>
<path d="M439.3 75.7V123.3" class="no" stroke-dasharray="0 2.50"/>
<path d="M439.3 75.7V123.3" class="n" stroke-dasharray="0 2.50"/>
<path d="M437.90 92.53l2.8 3.2m0 -3.2l-2.8 3.2" stroke="#000" stroke-width=".5" opacity=".85"/>
<line x1="442.75" x2="442.75" y1="46.69" y2="126.29" stroke="#222" stroke-width=".55"/>
<rect x="441.12" y="89.94" width="3.25" height="25.13" fill="#9c9c9c" stroke="#1a1a1a" stroke-width=".45"/>
<path d="M442.8 46.7V79.1" class="ho" stroke-dasharray="0 3.60"/>
<path d="M442.8 46.7V79.1" class="h" stroke-dasharray="0 3.60"/>
<path d="M442.8 82.4V126.2" class="go" stroke-dasharray="0 1.90"/>
<path d="M442.8 82.4V126.2" class="g" stroke-dasharray="0 1.90"/>
<path d="M441.35 100.90l2.8 3.2m0 -3.2l-2.8 3.2" stroke="#000" stroke-width=".5" opacity=".85"/>
<line x1="446.20" x2="446.20" y1="45.15" y2="126.29" stroke="#222" stroke-width=".55"/>
<rect x="444.57" y="88.26" width="3.25" height="18.43" fill="#e6670f" stroke="#4a1c00" stroke-width=".45"/>
<path d="M446.2 83.9V124.0" class="eo" stroke-dasharray="0 2.50"/>
<path d="M446.2 83.9V124.0" class="e" stroke-dasharray="0 2.50"/>
<circle cx="446.20" cy="45.15" r="1.1" fill="#e6670f" stroke="#4a1c00" stroke-width=".35"/>
<circle cx="446.20" cy="57.71" r="1.1" fill="#e6670f" stroke="#4a1c00" stroke-width=".35"/>
<circle cx="446.20" cy="68.60" r="1.1" fill="#e6670f" stroke="#4a1c00" stroke-width=".35"/>
<path d="M444.80 95.88l2.8 3.2m0 -3.2l-2.8 3.2" stroke="#000" stroke-width=".5" opacity=".85"/>
<text transform="translate(444.85,130.79) rotate(-90) scale(1,1.06)" text-anchor="end" class="x" font-size="8.42">JAK</text>
<line x1="459.80" x2="459.80" y1="42.14" y2="122.74" stroke="#222" stroke-width=".55"/>
<rect x="458.18" y="88.26" width="3.25" height="26.80" fill="#0c2080" stroke="#00002a" stroke-width=".45"/>
<path d="M459.8 76.4V80.4" class="no" stroke-dasharray="0 3.90"/>
<path d="M459.8 76.4V80.4" class="n" stroke-dasharray="0 3.90"/>
<path d="M459.8 84.1V121.6" class="no" stroke-dasharray="0 2.50"/>
<path d="M459.8 84.1V121.6" class="n" stroke-dasharray="0 2.50"/>
<circle cx="459.80" cy="42.14" r="1.1" fill="#0c2080" stroke="#00002a" stroke-width=".35"/>
<circle cx="459.80" cy="51.85" r="1.1" fill="#0c2080" stroke="#00002a" stroke-width=".35"/>
<circle cx="459.80" cy="65.25" r="1.1" fill="#0c2080" stroke="#00002a" stroke-width=".35"/>
<path d="M458.40 100.06l2.8 3.2m0 -3.2l-2.8 3.2" stroke="#000" stroke-width=".5" opacity=".85"/>
<line x1="463.25" x2="463.25" y1="42.50" y2="126.29" stroke="#222" stroke-width=".55"/>
<rect x="461.62" y="90.78" width="3.25" height="23.45" fill="#9c9c9c" stroke="#1a1a1a" stroke-width=".45"/>
<path d="M463.2 42.5V82.2" class="ho" stroke-dasharray="0 3.60"/>
<path d="M463.2 42.5V82.2" class="h" stroke-dasharray="0 3.60"/>
<path d="M463.2 84.1V125.9" class="go" stroke-dasharray="0 1.90"/>
<path d="M463.2 84.1V125.9" class="g" stroke-dasharray="0 1.90"/>
<circle cx="463.25" cy="30.91" r="1.1" fill="#555" stroke="#1a1a1a" stroke-width=".35"/>
<path d="M461.85 100.90l2.8 3.2m0 -3.2l-2.8 3.2" stroke="#000" stroke-width=".5" opacity=".85"/>
<line x1="466.70" x2="466.70" y1="45.15" y2="126.29" stroke="#222" stroke-width=".55"/>
<rect x="465.07" y="92.45" width="3.25" height="20.94" fill="#e6670f" stroke="#4a1c00" stroke-width=".45"/>
<path d="M466.7 84.8V124.8" class="eo" stroke-dasharray="0 2.50"/>
<path d="M466.7 84.8V124.8" class="e" stroke-dasharray="0 2.50"/>
<circle cx="466.70" cy="45.15" r="1.1" fill="#e6670f" stroke="#4a1c00" stroke-width=".35"/>
<circle cx="466.70" cy="56.04" r="1.1" fill="#e6670f" stroke="#4a1c00" stroke-width=".35"/>
<circle cx="466.70" cy="69.44" r="1.1" fill="#e6670f" stroke="#4a1c00" stroke-width=".35"/>
<circle cx="466.70" cy="75.70" r="1.1" fill="#e6670f" stroke="#4a1c00" stroke-width=".35"/>
<path d="M465.30 101.32l2.8 3.2m0 -3.2l-2.8 3.2" stroke="#000" stroke-width=".5" opacity=".85"/>
<text transform="translate(465.35,130.79) rotate(-90) scale(1,1.06)" text-anchor="end" class="x" font-size="8.42">multikinase</text>
<line x1="480.40" x2="480.40" y1="32.79" y2="126.29" stroke="#222" stroke-width=".55"/>
<rect x="478.77" y="75.70" width="3.25" height="29.31" fill="#0c2080" stroke="#00002a" stroke-width=".45"/>
<path d="M480.4 32.8V67.9" class="no" stroke-dasharray="0 3.90"/>
<path d="M480.4 32.8V67.9" class="n" stroke-dasharray="0 3.90"/>
<path d="M480.4 70.3V125.3" class="no" stroke-dasharray="0 2.50"/>
<path d="M480.4 70.3V125.3" class="n" stroke-dasharray="0 2.50"/>
<path d="M479.00 88.76l2.8 3.2m0 -3.2l-2.8 3.2" stroke="#000" stroke-width=".5" opacity=".85"/>
<line x1="483.85" x2="483.85" y1="35.80" y2="119.39" stroke="#222" stroke-width=".55"/>
<rect x="482.22" y="60.23" width="3.25" height="40.60" fill="#9c9c9c" stroke="#1a1a1a" stroke-width=".45"/>
<path d="M483.8 35.8V117.6" class="go" stroke-dasharray="0 1.90"/>
<path d="M483.8 35.8V117.6" class="g" stroke-dasharray="0 1.90"/>
<path d="M482.45 78.93l2.8 3.2m0 -3.2l-2.8 3.2" stroke="#000" stroke-width=".5" opacity=".85"/>
<line x1="487.30" x2="487.30" y1="29.94" y2="111.85" stroke="#222" stroke-width=".55"/>
<rect x="485.67" y="52.69" width="3.25" height="42.27" fill="#e6670f" stroke="#4a1c00" stroke-width=".45"/>
<path d="M487.3 29.9V37.8" class="eo" stroke-dasharray="0 3.90"/>
<path d="M487.3 29.9V37.8" class="e" stroke-dasharray="0 3.90"/>
<path d="M487.3 40.1V110.2" class="eo" stroke-dasharray="0 2.50"/>
<path d="M487.3 40.1V110.2" class="e" stroke-dasharray="0 2.50"/>
<path d="M485.90 72.23l2.8 3.2m0 -3.2l-2.8 3.2" stroke="#000" stroke-width=".5" opacity=".85"/>
<text transform="translate(485.95,130.79) rotate(-90) scale(1,1.06)" text-anchor="end" class="x" font-size="8.42">Bcl-2</text>
<line x1="501.20" x2="501.20" y1="34.96" y2="126.29" stroke="#222" stroke-width=".55"/>
<rect x="499.57" y="62.74" width="3.25" height="35.57" fill="#0c2080" stroke="#00002a" stroke-width=".45"/>
<path d="M501.2 35.0V46.7" class="no" stroke-dasharray="0 3.90"/>
<path d="M501.2 35.0V46.7" class="n" stroke-dasharray="0 3.90"/>
<path d="M501.2 48.5V126.1" class="no" stroke-dasharray="0 2.50"/>
<path d="M501.2 48.5V126.1" class="n" stroke-dasharray="0 2.50"/>
<path d="M499.80 78.93l2.8 3.2m0 -3.2l-2.8 3.2" stroke="#000" stroke-width=".5" opacity=".85"/>
<line x1="504.65" x2="504.65" y1="34.26" y2="126.29" stroke="#222" stroke-width=".55"/>
<rect x="503.02" y="65.25" width="3.25" height="36.41" fill="#9c9c9c" stroke="#1a1a1a" stroke-width=".45"/>
<path d="M504.6 40.8V124.5" class="go" stroke-dasharray="0 1.90"/>
<path d="M504.6 40.8V124.5" class="g" stroke-dasharray="0 1.90"/>
<path d="M503.25 81.86l2.8 3.2m0 -3.2l-2.8 3.2" stroke="#000" stroke-width=".5" opacity=".85"/>
<line x1="508.10" x2="508.10" y1="35.30" y2="126.29" stroke="#222" stroke-width=".55"/>
<rect x="506.47" y="61.90" width="3.25" height="42.61" fill="#e6670f" stroke="#4a1c00" stroke-width=".45"/>
<path d="M508.1 35.3V47.0" class="eo" stroke-dasharray="0 3.90"/>
<path d="M508.1 35.3V47.0" class="e" stroke-dasharray="0 3.90"/>
<path d="M508.1 48.5V113.6" class="eo" stroke-dasharray="0 2.50"/>
<path d="M508.1 48.5V113.6" class="e" stroke-dasharray="0 2.50"/>
<path d="M506.70 81.61l2.8 3.2m0 -3.2l-2.8 3.2" stroke="#000" stroke-width=".5" opacity=".85"/>
<text transform="translate(506.75,130.79) rotate(-90) scale(1,1.06)" text-anchor="end" class="x" font-size="8.42">Tubulin frag</text>
<line x1="42.6" x2="515.0" y1="126.29" y2="126.29" stroke="#222" stroke-width="1"/>
<text transform="translate(6.9,25.40) rotate(-90)" text-anchor="end" class="y">Mean GI<tspan dy="1.9" font-size="5.2">50</tspan><tspan dy="-1.9"> concentration</tspan></text>
<text transform="translate(18.1,67.50) rotate(-90)" text-anchor="middle" class="y" letter-spacing=".22">log(mol/L)</text>
<line x1="42.0" x2="515.0" y1="288.28" y2="288.28" stroke="#e2e2e2" stroke-width=".8"/>
<line x1="42.0" x2="515.0" y1="267.52" y2="267.52" stroke="#e2e2e2" stroke-width=".8"/>
<line x1="42.0" x2="515.0" y1="246.77" y2="246.77" stroke="#e2e2e2" stroke-width=".8"/>
<line x1="42.0" x2="515.0" y1="226.01" y2="226.01" stroke="#e2e2e2" stroke-width=".8"/>
<line x1="42.0" x2="515.0" y1="205.26" y2="205.26" stroke="#e2e2e2" stroke-width=".8"/>
<line x1="42.0" x2="515.0" y1="184.50" y2="184.50" stroke="#e2e2e2" stroke-width=".8"/>
<line x1="42.0" x2="42.0" y1="184.50" y2="288.28" stroke="#d8d8d8" stroke-width=".8"/>
<text x="37.6" y="291.18" text-anchor="end" class="t">0</text>
<text x="37.6" y="270.42" text-anchor="end" class="t">0.2</text>
<text x="37.6" y="249.67" text-anchor="end" class="t">0.4</text>
<text x="37.6" y="228.91" text-anchor="end" class="t">0.6</text>
<text x="37.6" y="208.16" text-anchor="end" class="t">0.8</text>
<text x="37.6" y="187.40" text-anchor="end" class="t">1</text>
<line x1="48.70" x2="48.70" y1="190.75" y2="267.48" stroke="#222" stroke-width=".55"/>
<rect x="47.08" y="206.80" width="3.25" height="25.13" fill="#0c2080" stroke="#00002a" stroke-width=".45"/>
<path d="M48.7 190.8V194.7" class="no" stroke-dasharray="0 3.90"/>
<path d="M48.7 190.8V194.7" class="n" stroke-dasharray="0 3.90"/>
<path d="M48.7 198.4V231.0" class="no" stroke-dasharray="0 2.50"/>
<path d="M48.7 198.4V231.0" class="n" stroke-dasharray="0 2.50"/>
<path d="M48.7 236.8V267.5" class="no" stroke-dasharray="0 3.83"/>
<path d="M48.7 236.8V267.5" class="n" stroke-dasharray="0 3.83"/>
<path d="M47.30 217.76l2.8 3.2m0 -3.2l-2.8 3.2" stroke="#000" stroke-width=".5" opacity=".85"/>
<line x1="52.15" x2="52.15" y1="201.78" y2="278.23" stroke="#222" stroke-width=".55"/>
<rect x="50.53" y="212.66" width="3.25" height="23.69" fill="#9c9c9c" stroke="#1a1a1a" stroke-width=".45"/>
<path d="M52.2 205.8V262.9" class="go" stroke-dasharray="0 1.90"/>
<path d="M52.2 205.8V262.9" class="g" stroke-dasharray="0 1.90"/>
<path d="M50.75 222.91l2.8 3.2m0 -3.2l-2.8 3.2" stroke="#000" stroke-width=".5" opacity=".85"/>
<line x1="55.60" x2="55.60" y1="190.42" y2="277.53" stroke="#222" stroke-width=".55"/>
<rect x="53.98" y="205.13" width="3.25" height="33.74" fill="#e6670f" stroke="#4a1c00" stroke-width=".45"/>
<path d="M55.6 190.4V240.5" class="eo" stroke-dasharray="0 2.50"/>
<path d="M55.6 190.4V240.5" class="e" stroke-dasharray="0 2.50"/>
<path d="M55.6 245.4V277.6" class="eo" stroke-dasharray="0 4.02"/>
<path d="M55.6 245.4V277.6" class="e" stroke-dasharray="0 4.02"/>
<path d="M54.20 220.39l2.8 3.2m0 -3.2l-2.8 3.2" stroke="#000" stroke-width=".5" opacity=".85"/>
<text transform="translate(55.00,293.08) rotate(-90) scale(1,1.06)" text-anchor="end" class="x" font-size="8.7">Plk-1</text>
<line x1="68.80" x2="68.80" y1="192.43" y2="216.99" stroke="#222" stroke-width=".55"/>
<rect x="67.17" y="195.91" width="3.25" height="15.91" fill="#0c2080" stroke="#00002a" stroke-width=".45"/>
<path d="M68.8 192.4V215.0" class="no" stroke-dasharray="0 2.50"/>
<path d="M68.8 192.4V215.0" class="n" stroke-dasharray="0 2.50"/>
<circle cx="68.80" cy="263.49" r="1.1" fill="#0c2080" stroke="#00002a" stroke-width=".35"/>
<circle cx="68.80" cy="276.89" r="1.1" fill="#0c2080" stroke="#00002a" stroke-width=".35"/>
<circle cx="68.80" cy="281.58" r="1.1" fill="#0c2080" stroke="#00002a" stroke-width=".35"/>
<circle cx="68.80" cy="283.25" r="1.1" fill="#0c2080" stroke="#00002a" stroke-width=".35"/>
<path d="M67.40 202.27l2.8 3.2m0 -3.2l-2.8 3.2" stroke="#000" stroke-width=".5" opacity=".85"/>
<line x1="72.25" x2="72.25" y1="197.45" y2="228.71" stroke="#222" stroke-width=".55"/>
<rect x="70.62" y="197.59" width="3.25" height="23.45" fill="#9c9c9c" stroke="#1a1a1a" stroke-width=".45"/>
<path d="M72.2 197.5V227.9" class="go" stroke-dasharray="0 1.90"/>
<path d="M72.2 197.5V227.9" class="g" stroke-dasharray="0 1.90"/>
<circle cx="72.25" cy="256.79" r="1.1" fill="#555" stroke="#1a1a1a" stroke-width=".35"/>
<circle cx="72.25" cy="270.19" r="1.1" fill="#555" stroke="#1a1a1a" stroke-width=".35"/>
<circle cx="72.25" cy="273.20" r="1.1" fill="#555" stroke="#1a1a1a" stroke-width=".35"/>
<circle cx="72.25" cy="276.22" r="1.1" fill="#555" stroke="#1a1a1a" stroke-width=".35"/>
<circle cx="72.25" cy="279.06" r="1.1" fill="#555" stroke="#1a1a1a" stroke-width=".35"/>
<circle cx="72.25" cy="287.44" r="1.1" fill="#555" stroke="#1a1a1a" stroke-width=".35"/>
<path d="M70.85 207.71l2.8 3.2m0 -3.2l-2.8 3.2" stroke="#000" stroke-width=".5" opacity=".85"/>
<line x1="75.70" x2="75.70" y1="189.08" y2="218.66" stroke="#222" stroke-width=".55"/>
<rect x="74.08" y="195.91" width="3.25" height="20.10" fill="#e6670f" stroke="#4a1c00" stroke-width=".45"/>
<path d="M75.7 189.1V216.6" class="eo" stroke-dasharray="0 2.50"/>
<path d="M75.7 189.1V216.6" class="e" stroke-dasharray="0 2.50"/>
<circle cx="75.70" cy="283.25" r="1.1" fill="#e6670f" stroke="#4a1c00" stroke-width=".35"/>
<circle cx="75.70" cy="286.27" r="1.1" fill="#e6670f" stroke="#4a1c00" stroke-width=".35"/>
<path d="M74.30 204.36l2.8 3.2m0 -3.2l-2.8 3.2" stroke="#000" stroke-width=".5" opacity=".85"/>
<text transform="translate(75.10,293.08) rotate(-90) scale(1,1.06)" text-anchor="end" class="x" font-size="8.7">ERK</text>
<line x1="88.60" x2="88.60" y1="220.57" y2="286.74" stroke="#222" stroke-width=".55"/>
<rect x="86.97" y="243.39" width="3.25" height="26.80" fill="#0c2080" stroke="#00002a" stroke-width=".45"/>
<path d="M88.6 220.6V236.2" class="no" stroke-dasharray="0 3.90"/>
<path d="M88.6 220.6V236.2" class="n" stroke-dasharray="0 3.90"/>
<path d="M88.6 239.7V284.8" class="no" stroke-dasharray="0 2.50"/>
<path d="M88.6 239.7V284.8" class="n" stroke-dasharray="0 2.50"/>
<path d="M87.20 255.19l2.8 3.2m0 -3.2l-2.8 3.2" stroke="#000" stroke-width=".5" opacity=".85"/>
<line x1="92.05" x2="92.05" y1="228.58" y2="286.74" stroke="#222" stroke-width=".55"/>
<rect x="90.42" y="254.78" width="3.25" height="20.94" fill="#9c9c9c" stroke="#1a1a1a" stroke-width=".45"/>
<path d="M92.0 231.0V286.1" class="go" stroke-dasharray="0 1.90"/>
<path d="M92.0 231.0V286.1" class="g" stroke-dasharray="0 1.90"/>
<path d="M90.65 263.64l2.8 3.2m0 -3.2l-2.8 3.2" stroke="#000" stroke-width=".5" opacity=".85"/>
<line x1="95.50" x2="95.50" y1="227.94" y2="283.39" stroke="#222" stroke-width=".55"/>
<rect x="93.88" y="247.24" width="3.25" height="23.45" fill="#e6670f" stroke="#4a1c00" stroke-width=".45"/>
<path d="M95.5 227.9V239.7" class="eo" stroke-dasharray="0 3.90"/>
<path d="M95.5 227.9V239.7" class="e" stroke-dasharray="0 3.90"/>
<path d="M95.5 243.1V283.1" class="eo" stroke-dasharray="0 2.50"/>
<path d="M95.5 243.1V283.1" class="e" stroke-dasharray="0 2.50"/>
<path d="M94.10 257.36l2.8 3.2m0 -3.2l-2.8 3.2" stroke="#000" stroke-width=".5" opacity=".85"/>
<text transform="translate(94.90,293.08) rotate(-90) scale(1,1.06)" text-anchor="end" class="x" font-size="8.7">SMO</text>
<line x1="108.70" x2="108.70" y1="193.26" y2="280.04" stroke="#222" stroke-width=".55"/>
<rect x="107.08" y="221.88" width="3.25" height="29.55" fill="#0c2080" stroke="#00002a" stroke-width=".45"/>
<path d="M108.7 193.3V216.7" class="no" stroke-dasharray="0 3.90"/>
<path d="M108.7 193.3V216.7" class="n" stroke-dasharray="0 3.90"/>
<path d="M108.7 218.5V251.1" class="no" stroke-dasharray="0 2.50"/>
<path d="M108.7 218.5V251.1" class="n" stroke-dasharray="0 2.50"/>
<path d="M108.7 256.9V280.1" class="no" stroke-dasharray="0 3.85"/>
<path d="M108.7 256.9V280.1" class="n" stroke-dasharray="0 3.85"/>
<path d="M107.30 235.05l2.8 3.2m0 -3.2l-2.8 3.2" stroke="#000" stroke-width=".5" opacity=".85"/>
<line x1="112.15" x2="112.15" y1="210.01" y2="275.01" stroke="#222" stroke-width=".55"/>
<rect x="110.53" y="215.18" width="3.25" height="28.71" fill="#9c9c9c" stroke="#1a1a1a" stroke-width=".45"/>
<path d="M112.2 210.0V274.7" class="go" stroke-dasharray="0 1.90"/>
<path d="M112.2 210.0V274.7" class="g" stroke-dasharray="0 1.90"/>
<circle cx="112.15" cy="286.94" r="1.1" fill="#555" stroke="#1a1a1a" stroke-width=".35"/>
<path d="M110.75 227.93l2.8 3.2m0 -3.2l-2.8 3.2" stroke="#000" stroke-width=".5" opacity=".85"/>
<line x1="115.60" x2="115.60" y1="193.26" y2="260.78" stroke="#222" stroke-width=".55"/>
<rect x="113.98" y="206.80" width="3.25" height="20.94" fill="#e6670f" stroke="#4a1c00" stroke-width=".45"/>
<path d="M115.6 193.3V201.1" class="eo" stroke-dasharray="0 3.90"/>
<path d="M115.6 193.3V201.1" class="e" stroke-dasharray="0 3.90"/>
<path d="M115.6 203.5V228.5" class="eo" stroke-dasharray="0 2.50"/>
<path d="M115.6 203.5V228.5" class="e" stroke-dasharray="0 2.50"/>
<path d="M115.6 234.1V260.8" class="eo" stroke-dasharray="0 3.82"/>
<path d="M115.6 234.1V260.8" class="e" stroke-dasharray="0 3.82"/>
<path d="M114.20 215.67l2.8 3.2m0 -3.2l-2.8 3.2" stroke="#000" stroke-width=".5" opacity=".85"/>
<text transform="translate(115.00,293.08) rotate(-90) scale(1,1.06)" text-anchor="end" class="x" font-size="8.7">ATR</text>
<line x1="128.40" x2="128.40" y1="193.26" y2="222.01" stroke="#222" stroke-width=".55"/>
<rect x="126.78" y="204.29" width="3.25" height="10.05" fill="#0c2080" stroke="#00002a" stroke-width=".45"/>
<path d="M128.4 193.3V220.8" class="no" stroke-dasharray="0 2.50"/>
<path d="M128.4 193.3V220.8" class="n" stroke-dasharray="0 2.50"/>
<path d="M127.00 207.71l2.8 3.2m0 -3.2l-2.8 3.2" stroke="#000" stroke-width=".5" opacity=".85"/>
<line x1="131.85" x2="131.85" y1="201.78" y2="243.05" stroke="#222" stroke-width=".55"/>
<rect x="130.22" y="211.83" width="3.25" height="15.08" fill="#9c9c9c" stroke="#1a1a1a" stroke-width=".45"/>
<path d="M131.8 204.2V234.6" class="go" stroke-dasharray="0 1.90"/>
<path d="M131.8 204.2V234.6" class="g" stroke-dasharray="0 1.90"/>
<path d="M130.45 217.76l2.8 3.2m0 -3.2l-2.8 3.2" stroke="#000" stroke-width=".5" opacity=".85"/>
<line x1="135.30" x2="135.30" y1="189.41" y2="224.53" stroke="#222" stroke-width=".55"/>
<rect x="133.68" y="197.59" width="3.25" height="10.89" fill="#e6670f" stroke="#4a1c00" stroke-width=".45"/>
<path d="M135.3 189.4V209.5" class="eo" stroke-dasharray="0 2.50"/>
<path d="M135.3 189.4V209.5" class="e" stroke-dasharray="0 2.50"/>
<path d="M135.3 213.7V224.6" class="eo" stroke-dasharray="0 3.59"/>
<path d="M135.3 213.7V224.6" class="e" stroke-dasharray="0 3.59"/>
<path d="M133.90 201.43l2.8 3.2m0 -3.2l-2.8 3.2" stroke="#000" stroke-width=".5" opacity=".85"/>
<text transform="translate(134.70,293.08) rotate(-90) scale(1,1.06)" text-anchor="end" class="x" font-size="8.7">IAP</text>
<line x1="148.10" x2="148.10" y1="194.10" y2="264.13" stroke="#222" stroke-width=".55"/>
<rect x="146.47" y="207.64" width="3.25" height="46.30" fill="#0c2080" stroke="#00002a" stroke-width=".45"/>
<path d="M148.1 194.1V264.2" class="no" stroke-dasharray="0 2.50"/>
<path d="M148.1 194.1V264.2" class="n" stroke-dasharray="0 2.50"/>
<path d="M146.70 229.19l2.8 3.2m0 -3.2l-2.8 3.2" stroke="#000" stroke-width=".5" opacity=".85"/>
<line x1="151.55" x2="151.55" y1="210.85" y2="280.88" stroke="#222" stroke-width=".55"/>
<rect x="149.92" y="216.01" width="3.25" height="42.11" fill="#9c9c9c" stroke="#1a1a1a" stroke-width=".45"/>
<path d="M151.5 210.9V279.3" class="go" stroke-dasharray="0 1.90"/>
<path d="M151.5 210.9V279.3" class="g" stroke-dasharray="0 1.90"/>
<path d="M150.15 235.47l2.8 3.2m0 -3.2l-2.8 3.2" stroke="#000" stroke-width=".5" opacity=".85"/>
<line x1="155.00" x2="155.00" y1="207.50" y2="285.06" stroke="#222" stroke-width=".55"/>
<rect x="153.38" y="228.58" width="3.25" height="25.36" fill="#e6670f" stroke="#4a1c00" stroke-width=".45"/>
<path d="M155.0 207.5V223.2" class="eo" stroke-dasharray="0 3.90"/>
<path d="M155.0 207.5V223.2" class="e" stroke-dasharray="0 3.90"/>
<path d="M155.0 225.2V255.3" class="eo" stroke-dasharray="0 2.50"/>
<path d="M155.0 225.2V255.3" class="e" stroke-dasharray="0 2.50"/>
<path d="M155.0 259.8V285.1" class="eo" stroke-dasharray="0 4.21"/>
<path d="M155.0 259.8V285.1" class="e" stroke-dasharray="0 4.21"/>
<path d="M153.60 239.66l2.8 3.2m0 -3.2l-2.8 3.2" stroke="#000" stroke-width=".5" opacity=".85"/>
<text transform="translate(154.40,293.08) rotate(-90) scale(1,1.06)" text-anchor="end" class="x" font-size="8.7">Topo I</text>
<line x1="168.60" x2="168.60" y1="191.09" y2="254.08" stroke="#222" stroke-width=".55"/>
<rect x="166.97" y="211.83" width="3.25" height="26.20" fill="#0c2080" stroke="#00002a" stroke-width=".45"/>
<path d="M168.6 191.1V206.7" class="no" stroke-dasharray="0 3.90"/>
<path d="M168.6 191.1V206.7" class="n" stroke-dasharray="0 3.90"/>
<path d="M168.6 208.5V253.5" class="no" stroke-dasharray="0 2.50"/>
<path d="M168.6 208.5V253.5" class="n" stroke-dasharray="0 2.50"/>
<path d="M167.20 223.33l2.8 3.2m0 -3.2l-2.8 3.2" stroke="#000" stroke-width=".5" opacity=".85"/>
<line x1="172.05" x2="172.05" y1="207.50" y2="273.34" stroke="#222" stroke-width=".55"/>
<rect x="170.42" y="224.39" width="3.25" height="27.87" fill="#9c9c9c" stroke="#1a1a1a" stroke-width=".45"/>
<path d="M172.0 207.5V272.2" class="go" stroke-dasharray="0 1.90"/>
<path d="M172.0 207.5V272.2" class="g" stroke-dasharray="0 1.90"/>
<path d="M170.65 236.73l2.8 3.2m0 -3.2l-2.8 3.2" stroke="#000" stroke-width=".5" opacity=".85"/>
<line x1="175.50" x2="175.50" y1="192.76" y2="278.36" stroke="#222" stroke-width=".55"/>
<rect x="173.88" y="206.80" width="3.25" height="45.46" fill="#e6670f" stroke="#4a1c00" stroke-width=".45"/>
<path d="M175.5 192.8V200.6" class="eo" stroke-dasharray="0 3.90"/>
<path d="M175.5 192.8V200.6" class="e" stroke-dasharray="0 3.90"/>
<path d="M175.5 203.5V253.5" class="eo" stroke-dasharray="0 2.50"/>
<path d="M175.5 203.5V253.5" class="e" stroke-dasharray="0 2.50"/>
<path d="M175.5 258.0V278.4" class="eo" stroke-dasharray="0 4.07"/>
<path d="M175.5 258.0V278.4" class="e" stroke-dasharray="0 4.07"/>
<path d="M174.10 227.93l2.8 3.2m0 -3.2l-2.8 3.2" stroke="#000" stroke-width=".5" opacity=".85"/>
<text transform="translate(174.90,293.08) rotate(-90) scale(1,1.06)" text-anchor="end" class="x" font-size="8.7">IGF1R</text>
<line x1="188.20" x2="188.20" y1="206.16" y2="266.64" stroke="#222" stroke-width=".55"/>
<rect x="186.57" y="218.86" width="3.25" height="31.73" fill="#0c2080" stroke="#00002a" stroke-width=".45"/>
<path d="M188.2 206.2V214.0" class="no" stroke-dasharray="0 3.90"/>
<path d="M188.2 206.2V214.0" class="n" stroke-dasharray="0 3.90"/>
<path d="M188.2 216.9V264.4" class="no" stroke-dasharray="0 2.50"/>
<path d="M188.2 216.9V264.4" class="n" stroke-dasharray="0 2.50"/>
<path d="M186.80 233.12l2.8 3.2m0 -3.2l-2.8 3.2" stroke="#000" stroke-width=".5" opacity=".85"/>
<line x1="191.65" x2="191.65" y1="205.83" y2="264.96" stroke="#222" stroke-width=".55"/>
<rect x="190.02" y="221.04" width="3.25" height="27.87" fill="#9c9c9c" stroke="#1a1a1a" stroke-width=".45"/>
<path d="M191.6 205.8V264.8" class="go" stroke-dasharray="0 1.90"/>
<path d="M191.6 205.8V264.8" class="g" stroke-dasharray="0 1.90"/>
<circle cx="191.65" cy="280.74" r="1.1" fill="#555" stroke="#1a1a1a" stroke-width=".35"/>
<circle cx="191.65" cy="283.25" r="1.1" fill="#555" stroke="#1a1a1a" stroke-width=".35"/>
<circle cx="191.65" cy="285.76" r="1.1" fill="#555" stroke="#1a1a1a" stroke-width=".35"/>
<path d="M190.25 233.38l2.8 3.2m0 -3.2l-2.8 3.2" stroke="#000" stroke-width=".5" opacity=".85"/>
<line x1="195.10" x2="195.10" y1="190.42" y2="257.43" stroke="#222" stroke-width=".55"/>
<rect x="193.47" y="200.10" width="3.25" height="29.31" fill="#e6670f" stroke="#4a1c00" stroke-width=".45"/>
<path d="M195.1 190.4V194.4" class="eo" stroke-dasharray="0 3.90"/>
<path d="M195.1 190.4V194.4" class="e" stroke-dasharray="0 3.90"/>
<path d="M195.1 198.4V231.0" class="eo" stroke-dasharray="0 2.50"/>
<path d="M195.1 198.4V231.0" class="e" stroke-dasharray="0 2.50"/>
<path d="M195.1 236.2V257.5" class="eo" stroke-dasharray="0 4.25"/>
<path d="M195.1 236.2V257.5" class="e" stroke-dasharray="0 4.25"/>
<path d="M193.70 213.16l2.8 3.2m0 -3.2l-2.8 3.2" stroke="#000" stroke-width=".5" opacity=".85"/>
<text transform="translate(194.50,293.08) rotate(-90) scale(1,1.06)" text-anchor="end" class="x" font-size="8.7">Topo II</text>
<line x1="208.40" x2="208.40" y1="236.35" y2="281.71" stroke="#222" stroke-width=".55"/>
<rect x="206.78" y="243.05" width="3.25" height="25.96" fill="#0c2080" stroke="#00002a" stroke-width=".45"/>
<path d="M208.4 242.9V280.5" class="no" stroke-dasharray="0 2.50"/>
<path d="M208.4 242.9V280.5" class="n" stroke-dasharray="0 2.50"/>
<circle cx="208.40" cy="192.23" r="1.1" fill="#0c2080" stroke="#00002a" stroke-width=".35"/>
<circle cx="208.40" cy="196.75" r="1.1" fill="#0c2080" stroke="#00002a" stroke-width=".35"/>
<circle cx="208.40" cy="200.94" r="1.1" fill="#0c2080" stroke="#00002a" stroke-width=".35"/>
<circle cx="208.40" cy="202.61" r="1.1" fill="#0c2080" stroke="#00002a" stroke-width=".35"/>
<path d="M207.00 254.43l2.8 3.2m0 -3.2l-2.8 3.2" stroke="#000" stroke-width=".5" opacity=".85"/>
<line x1="211.85" x2="211.85" y1="195.08" y2="284.23" stroke="#222" stroke-width=".55"/>
<rect x="210.22" y="227.74" width="3.25" height="32.90" fill="#9c9c9c" stroke="#1a1a1a" stroke-width=".45"/>
<path d="M211.8 227.6V282.8" class="go" stroke-dasharray="0 1.90"/>
<path d="M211.8 227.6V282.8" class="g" stroke-dasharray="0 1.90"/>
<circle cx="211.85" cy="195.08" r="1.1" fill="#555" stroke="#1a1a1a" stroke-width=".35"/>
<circle cx="211.85" cy="197.59" r="1.1" fill="#555" stroke="#1a1a1a" stroke-width=".35"/>
<circle cx="211.85" cy="200.10" r="1.1" fill="#555" stroke="#1a1a1a" stroke-width=".35"/>
<circle cx="211.85" cy="202.61" r="1.1" fill="#555" stroke="#1a1a1a" stroke-width=".35"/>
<circle cx="211.85" cy="205.13" r="1.1" fill="#555" stroke="#1a1a1a" stroke-width=".35"/>
<circle cx="211.85" cy="207.64" r="1.1" fill="#555" stroke="#1a1a1a" stroke-width=".35"/>
<circle cx="211.85" cy="210.15" r="1.1" fill="#555" stroke="#1a1a1a" stroke-width=".35"/>
<circle cx="211.85" cy="212.16" r="1.1" fill="#555" stroke="#1a1a1a" stroke-width=".35"/>
<path d="M210.45 242.59l2.8 3.2m0 -3.2l-2.8 3.2" stroke="#000" stroke-width=".5" opacity=".85"/>
<line x1="215.30" x2="215.30" y1="192.06" y2="276.69" stroke="#222" stroke-width=".55"/>
<rect x="213.68" y="231.93" width="3.25" height="28.71" fill="#e6670f" stroke="#4a1c00" stroke-width=".45"/>
<path d="M215.3 232.6V260.2" class="eo" stroke-dasharray="0 2.50"/>
<path d="M215.3 232.6V260.2" class="e" stroke-dasharray="0 2.50"/>
<path d="M215.3 265.9V276.7" class="eo" stroke-dasharray="0 3.59"/>
<path d="M215.3 265.9V276.7" class="e" stroke-dasharray="0 3.59"/>
<circle cx="215.30" cy="192.06" r="1.1" fill="#e6670f" stroke="#4a1c00" stroke-width=".35"/>
<circle cx="215.30" cy="205.13" r="1.1" fill="#e6670f" stroke="#4a1c00" stroke-width=".35"/>
<circle cx="215.30" cy="227.74" r="1.1" fill="#e6670f" stroke="#4a1c00" stroke-width=".35"/>
<path d="M213.90 244.68l2.8 3.2m0 -3.2l-2.8 3.2" stroke="#000" stroke-width=".5" opacity=".85"/>
<text transform="translate(214.70,293.08) rotate(-90) scale(1,1.06)" text-anchor="end" class="x" font-size="8.7">Mcl-1</text>
<line x1="227.60" x2="227.60" y1="241.38" y2="284.23" stroke="#222" stroke-width=".55"/>
<rect x="225.97" y="254.78" width="3.25" height="15.91" fill="#0c2080" stroke="#00002a" stroke-width=".45"/>
<path d="M227.6 254.6V282.2" class="no" stroke-dasharray="0 2.50"/>
<path d="M227.6 254.6V282.2" class="n" stroke-dasharray="0 2.50"/>
<circle cx="227.60" cy="219.70" r="1.1" fill="#0c2080" stroke="#00002a" stroke-width=".35"/>
<path d="M226.20 261.13l2.8 3.2m0 -3.2l-2.8 3.2" stroke="#000" stroke-width=".5" opacity=".85"/>
<line x1="231.05" x2="231.05" y1="210.15" y2="285.90" stroke="#222" stroke-width=".55"/>
<rect x="229.42" y="252.26" width="3.25" height="20.94" fill="#9c9c9c" stroke="#1a1a1a" stroke-width=".45"/>
<path d="M231.0 230.1V244.6" class="ho" stroke-dasharray="0 3.60"/>
<path d="M231.0 230.1V244.6" class="h" stroke-dasharray="0 3.60"/>
<path d="M231.0 248.1V284.2" class="go" stroke-dasharray="0 1.90"/>
<path d="M231.0 248.1V284.2" class="g" stroke-dasharray="0 1.90"/>
<circle cx="231.05" cy="210.15" r="1.1" fill="#555" stroke="#1a1a1a" stroke-width=".35"/>
<circle cx="231.05" cy="212.66" r="1.1" fill="#555" stroke="#1a1a1a" stroke-width=".35"/>
<path d="M229.65 261.13l2.8 3.2m0 -3.2l-2.8 3.2" stroke="#000" stroke-width=".5" opacity=".85"/>
<line x1="234.50" x2="234.50" y1="212.16" y2="279.20" stroke="#222" stroke-width=".55"/>
<rect x="232.88" y="235.51" width="3.25" height="31.83" fill="#e6670f" stroke="#4a1c00" stroke-width=".45"/>
<path d="M234.5 236.2V268.8" class="eo" stroke-dasharray="0 2.50"/>
<path d="M234.5 236.2V268.8" class="e" stroke-dasharray="0 2.50"/>
<path d="M234.5 272.4V279.3" class="eo" stroke-dasharray="0 3.40"/>
<path d="M234.5 272.4V279.3" class="e" stroke-dasharray="0 3.40"/>
<circle cx="234.50" cy="212.16" r="1.1" fill="#e6670f" stroke="#4a1c00" stroke-width=".35"/>
<circle cx="234.50" cy="226.90" r="1.1" fill="#e6670f" stroke="#4a1c00" stroke-width=".35"/>
<circle cx="234.50" cy="230.25" r="1.1" fill="#e6670f" stroke="#4a1c00" stroke-width=".35"/>
<path d="M233.10 249.83l2.8 3.2m0 -3.2l-2.8 3.2" stroke="#000" stroke-width=".5" opacity=".85"/>
<text transform="translate(233.90,293.08) rotate(-90) scale(1,1.06)" text-anchor="end" class="x" font-size="8.7">DNA mtx</text>
<line x1="247.70" x2="247.70" y1="219.56" y2="279.20" stroke="#222" stroke-width=".55"/>
<rect x="246.07" y="242.21" width="3.25" height="19.26" fill="#0c2080" stroke="#00002a" stroke-width=".45"/>
<path d="M247.7 219.6V235.2" class="no" stroke-dasharray="0 3.90"/>
<path d="M247.7 219.6V235.2" class="n" stroke-dasharray="0 3.90"/>
<path d="M247.7 239.7V277.3" class="no" stroke-dasharray="0 2.50"/>
<path d="M247.7 239.7V277.3" class="n" stroke-dasharray="0 2.50"/>
<circle cx="247.70" cy="198.93" r="1.1" fill="#0c2080" stroke="#00002a" stroke-width=".35"/>
<path d="M246.30 250.24l2.8 3.2m0 -3.2l-2.8 3.2" stroke="#000" stroke-width=".5" opacity=".85"/>
<line x1="251.15" x2="251.15" y1="231.09" y2="284.23" stroke="#222" stroke-width=".55"/>
<rect x="249.52" y="247.24" width="3.25" height="20.10" fill="#9c9c9c" stroke="#1a1a1a" stroke-width=".45"/>
<path d="M251.1 235.4V282.9" class="go" stroke-dasharray="0 1.90"/>
<path d="M251.1 235.4V282.9" class="g" stroke-dasharray="0 1.90"/>
<path d="M249.75 255.69l2.8 3.2m0 -3.2l-2.8 3.2" stroke="#000" stroke-width=".5" opacity=".85"/>
<line x1="254.60" x2="254.60" y1="195.78" y2="277.53" stroke="#222" stroke-width=".55"/>
<rect x="252.97" y="213.50" width="3.25" height="27.87" fill="#e6670f" stroke="#4a1c00" stroke-width=".45"/>
<path d="M254.6 195.8V207.5" class="eo" stroke-dasharray="0 3.90"/>
<path d="M254.6 195.8V207.5" class="e" stroke-dasharray="0 3.90"/>
<path d="M254.6 211.8V241.9" class="eo" stroke-dasharray="0 2.50"/>
<path d="M254.6 211.8V241.9" class="e" stroke-dasharray="0 2.50"/>
<path d="M254.6 246.9V277.6" class="eo" stroke-dasharray="0 3.83"/>
<path d="M254.6 246.9V277.6" class="e" stroke-dasharray="0 3.83"/>
<path d="M253.20 225.84l2.8 3.2m0 -3.2l-2.8 3.2" stroke="#000" stroke-width=".5" opacity=".85"/>
<text transform="translate(254.00,293.08) rotate(-90) scale(1,1.06)" text-anchor="end" class="x" font-size="8.7">Gamma sec</text>
<line x1="267.80" x2="267.80" y1="193.77" y2="239.84" stroke="#222" stroke-width=".55"/>
<rect x="266.18" y="199.26" width="3.25" height="25.96" fill="#0c2080" stroke="#00002a" stroke-width=".45"/>
<path d="M267.8 193.8V238.8" class="no" stroke-dasharray="0 2.50"/>
<path d="M267.8 193.8V238.8" class="n" stroke-dasharray="0 2.50"/>
<path d="M266.40 210.64l2.8 3.2m0 -3.2l-2.8 3.2" stroke="#000" stroke-width=".5" opacity=".85"/>
<line x1="271.25" x2="271.25" y1="190.89" y2="240.68" stroke="#222" stroke-width=".55"/>
<rect x="269.62" y="207.64" width="3.25" height="21.78" fill="#9c9c9c" stroke="#1a1a1a" stroke-width=".45"/>
<path d="M271.2 195.8V239.5" class="go" stroke-dasharray="0 1.90"/>
<path d="M271.2 195.8V239.5" class="g" stroke-dasharray="0 1.90"/>
<circle cx="271.25" cy="248.08" r="1.1" fill="#555" stroke="#1a1a1a" stroke-width=".35"/>
<circle cx="271.25" cy="249.75" r="1.1" fill="#555" stroke="#1a1a1a" stroke-width=".35"/>
<path d="M269.85 216.93l2.8 3.2m0 -3.2l-2.8 3.2" stroke="#000" stroke-width=".5" opacity=".85"/>
<line x1="274.70" x2="274.70" y1="188.24" y2="245.70" stroke="#222" stroke-width=".55"/>
<rect x="273.07" y="210.99" width="3.25" height="17.59" fill="#e6670f" stroke="#4a1c00" stroke-width=".45"/>
<path d="M274.7 188.2V203.9" class="eo" stroke-dasharray="0 3.90"/>
<path d="M274.7 188.2V203.9" class="e" stroke-dasharray="0 3.90"/>
<path d="M274.7 208.5V233.5" class="eo" stroke-dasharray="0 2.50"/>
<path d="M274.7 208.5V233.5" class="e" stroke-dasharray="0 2.50"/>
<path d="M274.7 237.6V245.8" class="eo" stroke-dasharray="0 4.03"/>
<path d="M274.7 237.6V245.8" class="e" stroke-dasharray="0 4.03"/>
<path d="M273.30 218.18l2.8 3.2m0 -3.2l-2.8 3.2" stroke="#000" stroke-width=".5" opacity=".85"/>
<text transform="translate(274.10,293.08) rotate(-90) scale(1,1.06)" text-anchor="end" class="x" font-size="8.7">KSP</text>
<line x1="287.50" x2="287.50" y1="204.15" y2="239.84" stroke="#222" stroke-width=".55"/>
<rect x="285.88" y="211.83" width="3.25" height="17.59" fill="#0c2080" stroke="#00002a" stroke-width=".45"/>
<path d="M287.5 204.2V239.2" class="no" stroke-dasharray="0 2.50"/>
<path d="M287.5 204.2V239.2" class="n" stroke-dasharray="0 2.50"/>
<path d="M286.10 219.02l2.8 3.2m0 -3.2l-2.8 3.2" stroke="#000" stroke-width=".5" opacity=".85"/>
<line x1="290.95" x2="290.95" y1="202.48" y2="250.59" stroke="#222" stroke-width=".55"/>
<rect x="289.32" y="210.99" width="3.25" height="21.78" fill="#9c9c9c" stroke="#1a1a1a" stroke-width=".45"/>
<path d="M290.9 202.5V244.3" class="go" stroke-dasharray="0 1.90"/>
<path d="M290.9 202.5V244.3" class="g" stroke-dasharray="0 1.90"/>
<path d="M289.55 220.28l2.8 3.2m0 -3.2l-2.8 3.2" stroke="#000" stroke-width=".5" opacity=".85"/>
<line x1="294.40" x2="294.40" y1="197.12" y2="233.14" stroke="#222" stroke-width=".55"/>
<rect x="292.77" y="207.64" width="3.25" height="13.40" fill="#e6670f" stroke="#4a1c00" stroke-width=".45"/>
<path d="M294.4 197.1V232.2" class="eo" stroke-dasharray="0 2.50"/>
<path d="M294.4 197.1V232.2" class="e" stroke-dasharray="0 2.50"/>
<path d="M293.00 212.74l2.8 3.2m0 -3.2l-2.8 3.2" stroke="#000" stroke-width=".5" opacity=".85"/>
<text transform="translate(293.80,293.08) rotate(-90) scale(1,1.06)" text-anchor="end" class="x" font-size="8.7">Chk1</text>
<line x1="307.30" x2="307.30" y1="207.50" y2="281.58" stroke="#222" stroke-width=".55"/>
<rect x="305.68" y="228.58" width="3.25" height="26.20" fill="#0c2080" stroke="#00002a" stroke-width=".45"/>
<path d="M307.3 207.5V223.2" class="no" stroke-dasharray="0 3.90"/>
<path d="M307.3 207.5V223.2" class="n" stroke-dasharray="0 3.90"/>
<path d="M307.3 226.9V262.0" class="no" stroke-dasharray="0 2.50"/>
<path d="M307.3 226.9V262.0" class="n" stroke-dasharray="0 2.50"/>
<circle cx="307.30" cy="281.58" r="1.1" fill="#0c2080" stroke="#00002a" stroke-width=".35"/>
<path d="M305.90 240.08l2.8 3.2m0 -3.2l-2.8 3.2" stroke="#000" stroke-width=".5" opacity=".85"/>
<line x1="310.75" x2="310.75" y1="205.13" y2="285.90" stroke="#222" stroke-width=".55"/>
<rect x="309.12" y="230.25" width="3.25" height="34.57" fill="#9c9c9c" stroke="#1a1a1a" stroke-width=".45"/>
<path d="M310.8 216.7V224.0" class="ho" stroke-dasharray="0 3.60"/>
<path d="M310.8 216.7V224.0" class="h" stroke-dasharray="0 3.60"/>
<path d="M310.8 226.9V285.9" class="go" stroke-dasharray="0 1.90"/>
<path d="M310.8 226.9V285.9" class="g" stroke-dasharray="0 1.90"/>
<path d="M309.35 245.94l2.8 3.2m0 -3.2l-2.8 3.2" stroke="#000" stroke-width=".5" opacity=".85"/>
<line x1="314.20" x2="314.20" y1="210.01" y2="284.23" stroke="#222" stroke-width=".55"/>
<rect x="312.57" y="231.09" width="3.25" height="37.92" fill="#e6670f" stroke="#4a1c00" stroke-width=".45"/>
<path d="M314.2 210.0V225.7" class="eo" stroke-dasharray="0 3.90"/>
<path d="M314.2 210.0V225.7" class="e" stroke-dasharray="0 3.90"/>
<path d="M314.2 228.6V268.6" class="eo" stroke-dasharray="0 2.50"/>
<path d="M314.2 228.6V268.6" class="e" stroke-dasharray="0 2.50"/>
<path d="M314.2 275.2V284.3" class="eo" stroke-dasharray="0 4.51"/>
<path d="M314.2 275.2V284.3" class="e" stroke-dasharray="0 4.51"/>
<path d="M312.80 248.45l2.8 3.2m0 -3.2l-2.8 3.2" stroke="#000" stroke-width=".5" opacity=".85"/>
<text transform="translate(313.60,293.08) rotate(-90) scale(1,1.06)" text-anchor="end" class="x" font-size="8.7">Flt3</text>
<line x1="327.40" x2="327.40" y1="217.55" y2="283.25" stroke="#222" stroke-width=".55"/>
<rect x="325.77" y="233.60" width="3.25" height="21.17" fill="#0c2080" stroke="#00002a" stroke-width=".45"/>
<path d="M327.4 217.6V229.3" class="no" stroke-dasharray="0 3.90"/>
<path d="M327.4 217.6V229.3" class="n" stroke-dasharray="0 3.90"/>
<path d="M327.4 231.9V267.0" class="no" stroke-dasharray="0 2.50"/>
<path d="M327.4 231.9V267.0" class="n" stroke-dasharray="0 2.50"/>
<circle cx="327.40" cy="186.70" r="1.1" fill="#0c2080" stroke="#00002a" stroke-width=".35"/>
<circle cx="327.40" cy="283.25" r="1.1" fill="#0c2080" stroke="#00002a" stroke-width=".35"/>
<path d="M326.00 242.59l2.8 3.2m0 -3.2l-2.8 3.2" stroke="#000" stroke-width=".5" opacity=".85"/>
<line x1="330.85" x2="330.85" y1="205.13" y2="285.06" stroke="#222" stroke-width=".55"/>
<rect x="329.22" y="242.21" width="3.25" height="30.15" fill="#9c9c9c" stroke="#1a1a1a" stroke-width=".45"/>
<path d="M330.8 216.7V234.8" class="ho" stroke-dasharray="0 3.60"/>
<path d="M330.8 216.7V234.8" class="h" stroke-dasharray="0 3.60"/>
<path d="M330.8 238.0V283.7" class="go" stroke-dasharray="0 1.90"/>
<path d="M330.8 238.0V283.7" class="g" stroke-dasharray="0 1.90"/>
<path d="M329.45 255.69l2.8 3.2m0 -3.2l-2.8 3.2" stroke="#000" stroke-width=".5" opacity=".85"/>
<line x1="334.30" x2="334.30" y1="228.44" y2="285.06" stroke="#222" stroke-width=".55"/>
<rect x="332.67" y="250.59" width="3.25" height="15.91" fill="#e6670f" stroke="#4a1c00" stroke-width=".45"/>
<path d="M334.3 228.4V244.1" class="eo" stroke-dasharray="0 3.90"/>
<path d="M334.3 228.4V244.1" class="e" stroke-dasharray="0 3.90"/>
<path d="M334.3 248.1V268.1" class="eo" stroke-dasharray="0 2.50"/>
<path d="M334.3 248.1V268.1" class="e" stroke-dasharray="0 2.50"/>
<path d="M334.3 272.4V285.1" class="eo" stroke-dasharray="0 4.22"/>
<path d="M334.3 272.4V285.1" class="e" stroke-dasharray="0 4.22"/>
<circle cx="334.30" cy="204.29" r="1.1" fill="#e6670f" stroke="#4a1c00" stroke-width=".35"/>
<path d="M332.90 256.94l2.8 3.2m0 -3.2l-2.8 3.2" stroke="#000" stroke-width=".5" opacity=".85"/>
<text transform="translate(333.70,293.08) rotate(-90) scale(1,1.06)" text-anchor="end" class="x" font-size="8.7">Syk</text>
<line x1="347.30" x2="347.30" y1="231.79" y2="282.55" stroke="#222" stroke-width=".55"/>
<rect x="345.68" y="253.10" width="3.25" height="20.10" fill="#0c2080" stroke="#00002a" stroke-width=".45"/>
<path d="M347.3 231.8V247.4" class="no" stroke-dasharray="0 3.90"/>
<path d="M347.3 231.8V247.4" class="n" stroke-dasharray="0 3.90"/>
<path d="M347.3 249.8V282.3" class="no" stroke-dasharray="0 2.50"/>
<path d="M347.3 249.8V282.3" class="n" stroke-dasharray="0 2.50"/>
<path d="M345.90 261.55l2.8 3.2m0 -3.2l-2.8 3.2" stroke="#000" stroke-width=".5" opacity=".85"/>
<line x1="350.75" x2="350.75" y1="215.88" y2="286.74" stroke="#222" stroke-width=".55"/>
<rect x="349.12" y="258.13" width="3.25" height="16.75" fill="#9c9c9c" stroke="#1a1a1a" stroke-width=".45"/>
<path d="M350.8 215.9V248.3" class="ho" stroke-dasharray="0 3.60"/>
<path d="M350.8 215.9V248.3" class="h" stroke-dasharray="0 3.60"/>
<path d="M350.8 253.1V285.5" class="go" stroke-dasharray="0 1.90"/>
<path d="M350.8 253.1V285.5" class="g" stroke-dasharray="0 1.90"/>
<circle cx="350.75" cy="189.21" r="1.1" fill="#555" stroke="#1a1a1a" stroke-width=".35"/>
<path d="M349.35 264.90l2.8 3.2m0 -3.2l-2.8 3.2" stroke="#000" stroke-width=".5" opacity=".85"/>
<line x1="354.20" x2="354.20" y1="201.97" y2="286.74" stroke="#222" stroke-width=".55"/>
<rect x="352.57" y="238.03" width="3.25" height="33.50" fill="#e6670f" stroke="#4a1c00" stroke-width=".45"/>
<path d="M354.2 202.0V233.2" class="eo" stroke-dasharray="0 3.90"/>
<path d="M354.2 202.0V233.2" class="e" stroke-dasharray="0 3.90"/>
<path d="M354.2 236.4V271.4" class="eo" stroke-dasharray="0 2.50"/>
<path d="M354.2 236.4V271.4" class="e" stroke-dasharray="0 2.50"/>
<path d="M354.2 277.7V286.8" class="eo" stroke-dasharray="0 4.51"/>
<path d="M354.2 277.7V286.8" class="e" stroke-dasharray="0 4.51"/>
<path d="M352.80 253.18l2.8 3.2m0 -3.2l-2.8 3.2" stroke="#000" stroke-width=".5" opacity=".85"/>
<text transform="translate(353.60,293.08) rotate(-90) scale(1,1.06)" text-anchor="end" class="x" font-size="8.7">EZH2</text>
<line x1="367.00" x2="367.00" y1="212.53" y2="285.90" stroke="#222" stroke-width=".55"/>
<rect x="365.38" y="238.03" width="3.25" height="39.36" fill="#0c2080" stroke="#00002a" stroke-width=".45"/>
<path d="M367.0 212.5V232.1" class="no" stroke-dasharray="0 3.90"/>
<path d="M367.0 212.5V232.1" class="n" stroke-dasharray="0 3.90"/>
<path d="M367.0 236.4V283.9" class="no" stroke-dasharray="0 2.50"/>
<path d="M367.0 236.4V283.9" class="n" stroke-dasharray="0 2.50"/>
<path d="M365.60 256.11l2.8 3.2m0 -3.2l-2.8 3.2" stroke="#000" stroke-width=".5" opacity=".85"/>
<line x1="370.45" x2="370.45" y1="219.36" y2="285.90" stroke="#222" stroke-width=".55"/>
<rect x="368.82" y="253.94" width="3.25" height="25.96" fill="#9c9c9c" stroke="#1a1a1a" stroke-width=".45"/>
<path d="M370.4 230.1V241.0" class="ho" stroke-dasharray="0 3.60"/>
<path d="M370.4 230.1V241.0" class="h" stroke-dasharray="0 3.60"/>
<path d="M370.4 243.1V284.9" class="go" stroke-dasharray="0 1.90"/>
<path d="M370.4 243.1V284.9" class="g" stroke-dasharray="0 1.90"/>
<path d="M369.05 265.32l2.8 3.2m0 -3.2l-2.8 3.2" stroke="#000" stroke-width=".5" opacity=".85"/>
<line x1="373.90" x2="373.90" y1="253.80" y2="283.39" stroke="#222" stroke-width=".55"/>
<rect x="372.27" y="261.48" width="3.25" height="18.43" fill="#e6670f" stroke="#4a1c00" stroke-width=".45"/>
<path d="M373.9 253.8V281.4" class="eo" stroke-dasharray="0 2.50"/>
<path d="M373.9 253.8V281.4" class="e" stroke-dasharray="0 2.50"/>
<circle cx="373.90" cy="232.43" r="1.1" fill="#e6670f" stroke="#4a1c00" stroke-width=".35"/>
<path d="M372.50 269.09l2.8 3.2m0 -3.2l-2.8 3.2" stroke="#000" stroke-width=".5" opacity=".85"/>
<text transform="translate(373.30,293.08) rotate(-90) scale(1,1.06)" text-anchor="end" class="x" font-size="8.7">IDH1</text>
<line x1="387.30" x2="387.30" y1="257.99" y2="285.90" stroke="#222" stroke-width=".55"/>
<rect x="385.68" y="259.80" width="3.25" height="17.59" fill="#0c2080" stroke="#00002a" stroke-width=".45"/>
<path d="M387.3 258.0V285.5" class="no" stroke-dasharray="0 2.50"/>
<path d="M387.3 258.0V285.5" class="n" stroke-dasharray="0 2.50"/>
<circle cx="387.30" cy="196.42" r="1.1" fill="#0c2080" stroke="#00002a" stroke-width=".35"/>
<circle cx="387.30" cy="206.80" r="1.1" fill="#0c2080" stroke="#00002a" stroke-width=".35"/>
<path d="M385.90 266.99l2.8 3.2m0 -3.2l-2.8 3.2" stroke="#000" stroke-width=".5" opacity=".85"/>
<line x1="390.75" x2="390.75" y1="207.64" y2="285.90" stroke="#222" stroke-width=".55"/>
<rect x="389.12" y="238.86" width="3.25" height="36.85" fill="#9c9c9c" stroke="#1a1a1a" stroke-width=".45"/>
<path d="M390.8 211.7V233.3" class="ho" stroke-dasharray="0 3.60"/>
<path d="M390.8 211.7V233.3" class="h" stroke-dasharray="0 3.60"/>
<path d="M390.8 236.4V285.8" class="go" stroke-dasharray="0 1.90"/>
<path d="M390.8 236.4V285.8" class="g" stroke-dasharray="0 1.90"/>
<path d="M389.35 255.69l2.8 3.2m0 -3.2l-2.8 3.2" stroke="#000" stroke-width=".5" opacity=".85"/>
<line x1="394.20" x2="394.20" y1="222.58" y2="283.39" stroke="#222" stroke-width=".55"/>
<rect x="392.57" y="246.40" width="3.25" height="25.96" fill="#e6670f" stroke="#4a1c00" stroke-width=".45"/>
<path d="M394.2 222.6V238.2" class="eo" stroke-dasharray="0 3.90"/>
<path d="M394.2 222.6V238.2" class="e" stroke-dasharray="0 3.90"/>
<path d="M394.2 243.1V283.1" class="eo" stroke-dasharray="0 2.50"/>
<path d="M394.2 243.1V283.1" class="e" stroke-dasharray="0 2.50"/>
<path d="M392.80 257.78l2.8 3.2m0 -3.2l-2.8 3.2" stroke="#000" stroke-width=".5" opacity=".85"/>
<text transform="translate(393.60,293.08) rotate(-90) scale(1,1.06)" text-anchor="end" class="x" font-size="8.7">DNA damaging</text>
<line x1="406.90" x2="406.90" y1="199.96" y2="244.03" stroke="#222" stroke-width=".55"/>
<rect x="405.27" y="210.99" width="3.25" height="15.91" fill="#0c2080" stroke="#00002a" stroke-width=".45"/>
<path d="M406.9 200.0V242.5" class="no" stroke-dasharray="0 2.50"/>
<path d="M406.9 200.0V242.5" class="n" stroke-dasharray="0 2.50"/>
<circle cx="406.90" cy="253.44" r="1.1" fill="#0c2080" stroke="#00002a" stroke-width=".35"/>
<path d="M405.50 217.34l2.8 3.2m0 -3.2l-2.8 3.2" stroke="#000" stroke-width=".5" opacity=".85"/>
<line x1="410.35" x2="410.35" y1="200.80" y2="261.48" stroke="#222" stroke-width=".55"/>
<rect x="408.72" y="216.01" width="3.25" height="18.43" fill="#9c9c9c" stroke="#1a1a1a" stroke-width=".45"/>
<path d="M410.3 200.8V252.2" class="go" stroke-dasharray="0 1.90"/>
<path d="M410.3 200.8V252.2" class="g" stroke-dasharray="0 1.90"/>
<path d="M408.95 223.63l2.8 3.2m0 -3.2l-2.8 3.2" stroke="#000" stroke-width=".5" opacity=".85"/>
<line x1="413.80" x2="413.80" y1="197.45" y2="254.08" stroke="#222" stroke-width=".55"/>
<rect x="412.17" y="211.83" width="3.25" height="23.69" fill="#e6670f" stroke="#4a1c00" stroke-width=".45"/>
<path d="M413.8 197.5V205.3" class="eo" stroke-dasharray="0 3.90"/>
<path d="M413.8 197.5V205.3" class="e" stroke-dasharray="0 3.90"/>
<path d="M413.8 210.2V237.7" class="eo" stroke-dasharray="0 2.50"/>
<path d="M413.8 210.2V237.7" class="e" stroke-dasharray="0 2.50"/>
<path d="M413.8 242.0V254.1" class="eo" stroke-dasharray="0 4.01"/>
<path d="M413.8 242.0V254.1" class="e" stroke-dasharray="0 4.01"/>
<path d="M412.40 222.07l2.8 3.2m0 -3.2l-2.8 3.2" stroke="#000" stroke-width=".5" opacity=".85"/>
<text transform="translate(413.20,293.08) rotate(-90) scale(1,1.06)" text-anchor="end" class="x" font-size="8.7">Proteosome</text>
<line x1="427.00" x2="427.00" y1="191.59" y2="222.85" stroke="#222" stroke-width=".55"/>
<rect x="425.38" y="195.08" width="3.25" height="18.43" fill="#0c2080" stroke="#00002a" stroke-width=".45"/>
<path d="M427.0 191.6V221.6" class="no" stroke-dasharray="0 2.50"/>
<path d="M427.0 191.6V221.6" class="n" stroke-dasharray="0 2.50"/>
<path d="M425.60 202.69l2.8 3.2m0 -3.2l-2.8 3.2" stroke="#000" stroke-width=".5" opacity=".85"/>
<line x1="430.45" x2="430.45" y1="193.26" y2="220.34" stroke="#222" stroke-width=".55"/>
<rect x="428.82" y="195.91" width="3.25" height="21.78" fill="#9c9c9c" stroke="#1a1a1a" stroke-width=".45"/>
<path d="M430.4 193.3V219.9" class="go" stroke-dasharray="0 1.90"/>
<path d="M430.4 193.3V219.9" class="g" stroke-dasharray="0 1.90"/>
<circle cx="430.45" cy="275.71" r="1.1" fill="#555" stroke="#1a1a1a" stroke-width=".35"/>
<circle cx="430.45" cy="282.75" r="1.1" fill="#555" stroke="#1a1a1a" stroke-width=".35"/>
<path d="M429.05 205.20l2.8 3.2m0 -3.2l-2.8 3.2" stroke="#000" stroke-width=".5" opacity=".85"/>
<line x1="433.90" x2="433.90" y1="188.74" y2="277.39" stroke="#222" stroke-width=".55"/>
<rect x="432.27" y="194.24" width="3.25" height="56.35" fill="#e6670f" stroke="#4a1c00" stroke-width=".45"/>
<path d="M433.9 188.7V216.3" class="eo" stroke-dasharray="0 2.50"/>
<path d="M433.9 188.7V216.3" class="e" stroke-dasharray="0 2.50"/>
<circle cx="433.90" cy="263.15" r="1.1" fill="#e6670f" stroke="#4a1c00" stroke-width=".35"/>
<circle cx="433.90" cy="269.01" r="1.1" fill="#e6670f" stroke="#4a1c00" stroke-width=".35"/>
<circle cx="433.90" cy="274.88" r="1.1" fill="#e6670f" stroke="#4a1c00" stroke-width=".35"/>
<circle cx="433.90" cy="276.89" r="1.1" fill="#e6670f" stroke="#4a1c00" stroke-width=".35"/>
<path d="M432.50 220.81l2.8 3.2m0 -3.2l-2.8 3.2" stroke="#000" stroke-width=".5" opacity=".85"/>
<text transform="translate(433.30,293.08) rotate(-90) scale(1,1.06)" text-anchor="end" class="x" font-size="8.7">SERD</text>
<line x1="446.70" x2="446.70" y1="206.16" y2="280.88" stroke="#222" stroke-width=".55"/>
<rect x="445.07" y="218.86" width="3.25" height="39.26" fill="#0c2080" stroke="#00002a" stroke-width=".45"/>
<path d="M446.7 206.2V214.0" class="no" stroke-dasharray="0 3.90"/>
<path d="M446.7 206.2V214.0" class="n" stroke-dasharray="0 3.90"/>
<path d="M446.7 216.9V259.4" class="no" stroke-dasharray="0 2.50"/>
<path d="M446.7 216.9V259.4" class="n" stroke-dasharray="0 2.50"/>
<path d="M446.7 264.0V280.9" class="no" stroke-dasharray="0 4.22"/>
<path d="M446.7 264.0V280.9" class="n" stroke-dasharray="0 4.22"/>
<path d="M445.30 236.89l2.8 3.2m0 -3.2l-2.8 3.2" stroke="#000" stroke-width=".5" opacity=".85"/>
<line x1="450.15" x2="450.15" y1="198.79" y2="285.90" stroke="#222" stroke-width=".55"/>
<rect x="448.52" y="222.71" width="3.25" height="32.90" fill="#9c9c9c" stroke="#1a1a1a" stroke-width=".45"/>
<path d="M450.1 198.8V216.8" class="ho" stroke-dasharray="0 3.60"/>
<path d="M450.1 198.8V216.8" class="h" stroke-dasharray="0 3.60"/>
<path d="M450.1 220.2V284.9" class="go" stroke-dasharray="0 1.90"/>
<path d="M450.1 220.2V284.9" class="g" stroke-dasharray="0 1.90"/>
<path d="M448.75 237.56l2.8 3.2m0 -3.2l-2.8 3.2" stroke="#000" stroke-width=".5" opacity=".85"/>
<line x1="453.60" x2="453.60" y1="215.88" y2="272.50" stroke="#222" stroke-width=".55"/>
<rect x="451.97" y="237.19" width="3.25" height="31.83" fill="#e6670f" stroke="#4a1c00" stroke-width=".45"/>
<path d="M453.6 215.9V231.5" class="eo" stroke-dasharray="0 3.90"/>
<path d="M453.6 215.9V231.5" class="e" stroke-dasharray="0 3.90"/>
<path d="M453.6 234.7V272.2" class="eo" stroke-dasharray="0 2.50"/>
<path d="M453.6 234.7V272.2" class="e" stroke-dasharray="0 2.50"/>
<path d="M452.20 251.50l2.8 3.2m0 -3.2l-2.8 3.2" stroke="#000" stroke-width=".5" opacity=".85"/>
<text transform="translate(453.00,293.08) rotate(-90) scale(1,1.06)" text-anchor="end" class="x" font-size="8.7">Bcr-Abl</text>
<line x1="466.50" x2="466.50" y1="214.84" y2="285.06" stroke="#222" stroke-width=".55"/>
<rect x="464.88" y="246.40" width="3.25" height="20.94" fill="#0c2080" stroke="#00002a" stroke-width=".45"/>
<path d="M466.5 235.4V239.3" class="no" stroke-dasharray="0 3.90"/>
<path d="M466.5 235.4V239.3" class="n" stroke-dasharray="0 3.90"/>
<path d="M466.5 243.1V283.1" class="no" stroke-dasharray="0 2.50"/>
<path d="M466.5 243.1V283.1" class="n" stroke-dasharray="0 2.50"/>
<circle cx="466.50" cy="214.84" r="1.1" fill="#0c2080" stroke="#00002a" stroke-width=".35"/>
<circle cx="466.50" cy="234.44" r="1.1" fill="#0c2080" stroke="#00002a" stroke-width=".35"/>
<path d="M465.10 255.27l2.8 3.2m0 -3.2l-2.8 3.2" stroke="#000" stroke-width=".5" opacity=".85"/>
<line x1="469.95" x2="469.95" y1="220.90" y2="285.90" stroke="#222" stroke-width=".55"/>
<rect x="468.32" y="249.75" width="3.25" height="25.96" fill="#9c9c9c" stroke="#1a1a1a" stroke-width=".45"/>
<path d="M469.9 220.9V239.0" class="ho" stroke-dasharray="0 3.60"/>
<path d="M469.9 220.9V239.0" class="h" stroke-dasharray="0 3.60"/>
<path d="M469.9 243.1V284.9" class="go" stroke-dasharray="0 1.90"/>
<path d="M469.9 243.1V284.9" class="g" stroke-dasharray="0 1.90"/>
<circle cx="469.95" cy="210.15" r="1.1" fill="#555" stroke="#1a1a1a" stroke-width=".35"/>
<path d="M468.55 261.13l2.8 3.2m0 -3.2l-2.8 3.2" stroke="#000" stroke-width=".5" opacity=".85"/>
<line x1="473.40" x2="473.40" y1="226.76" y2="281.71" stroke="#222" stroke-width=".55"/>
<rect x="471.77" y="246.40" width="3.25" height="25.13" fill="#e6670f" stroke="#4a1c00" stroke-width=".45"/>
<path d="M473.4 226.8V238.5" class="eo" stroke-dasharray="0 3.90"/>
<path d="M473.4 226.8V238.5" class="e" stroke-dasharray="0 3.90"/>
<path d="M473.4 243.1V280.6" class="eo" stroke-dasharray="0 2.50"/>
<path d="M473.4 243.1V280.6" class="e" stroke-dasharray="0 2.50"/>
<path d="M472.00 257.36l2.8 3.2m0 -3.2l-2.8 3.2" stroke="#000" stroke-width=".5" opacity=".85"/>
<text transform="translate(472.80,293.08) rotate(-90) scale(1,1.06)" text-anchor="end" class="x" font-size="8.7">p38 MAPK</text>
<line x1="486.60" x2="486.60" y1="193.26" y2="209.12" stroke="#222" stroke-width=".55"/>
<rect x="484.98" y="196.75" width="3.25" height="9.21" fill="#0c2080" stroke="#00002a" stroke-width=".45"/>
<path d="M486.6 193.3V208.3" class="no" stroke-dasharray="0 2.50"/>
<path d="M486.6 193.3V208.3" class="n" stroke-dasharray="0 2.50"/>
<path d="M485.20 199.76l2.8 3.2m0 -3.2l-2.8 3.2" stroke="#000" stroke-width=".5" opacity=".85"/>
<line x1="490.05" x2="490.05" y1="240.54" y2="280.74" stroke="#222" stroke-width=".55"/>
<rect x="488.43" y="257.29" width="3.25" height="13.40" fill="#9c9c9c" stroke="#1a1a1a" stroke-width=".45"/>
<path d="M490.1 245.4V275.9" class="go" stroke-dasharray="0 1.90"/>
<path d="M490.1 245.4V275.9" class="g" stroke-dasharray="0 1.90"/>
<path d="M488.65 262.39l2.8 3.2m0 -3.2l-2.8 3.2" stroke="#000" stroke-width=".5" opacity=".85"/>
<line x1="493.50" x2="493.50" y1="196.95" y2="244.73" stroke="#222" stroke-width=".55"/>
<rect x="491.88" y="201.78" width="3.25" height="20.10" fill="#e6670f" stroke="#4a1c00" stroke-width=".45"/>
<path d="M493.5 196.9V219.5" class="eo" stroke-dasharray="0 2.50"/>
<path d="M493.5 196.9V219.5" class="e" stroke-dasharray="0 2.50"/>
<circle cx="493.50" cy="231.93" r="1.1" fill="#e6670f" stroke="#4a1c00" stroke-width=".35"/>
<circle cx="493.50" cy="244.73" r="1.1" fill="#e6670f" stroke="#4a1c00" stroke-width=".35"/>
<path d="M492.10 210.23l2.8 3.2m0 -3.2l-2.8 3.2" stroke="#000" stroke-width=".5" opacity=".85"/>
<text transform="translate(492.90,293.08) rotate(-90) scale(1,1.06)" text-anchor="end" class="x" font-size="8.7">NAMPRTase</text>
<line x1="506.40" x2="506.40" y1="194.10" y2="285.90" stroke="#222" stroke-width=".55"/>
<rect x="504.77" y="205.13" width="3.25" height="75.61" fill="#0c2080" stroke="#00002a" stroke-width=".45"/>
<path d="M506.4 194.1V202.0" class="no" stroke-dasharray="0 3.90"/>
<path d="M506.4 194.1V202.0" class="n" stroke-dasharray="0 3.90"/>
<path d="M506.4 203.5V283.5" class="no" stroke-dasharray="0 2.50"/>
<path d="M506.4 203.5V283.5" class="n" stroke-dasharray="0 2.50"/>
<path d="M505.00 241.33l2.8 3.2m0 -3.2l-2.8 3.2" stroke="#000" stroke-width=".5" opacity=".85"/>
<line x1="509.85" x2="509.85" y1="191.73" y2="277.53" stroke="#222" stroke-width=".55"/>
<rect x="508.22" y="205.13" width="3.25" height="53.00" fill="#9c9c9c" stroke="#1a1a1a" stroke-width=".45"/>
<path d="M509.8 197.5V201.1" class="ho" stroke-dasharray="0 3.60"/>
<path d="M509.8 197.5V201.1" class="h" stroke-dasharray="0 3.60"/>
<path d="M509.8 203.5V275.7" class="go" stroke-dasharray="0 1.90"/>
<path d="M509.8 203.5V275.7" class="g" stroke-dasharray="0 1.90"/>
<path d="M508.45 230.03l2.8 3.2m0 -3.2l-2.8 3.2" stroke="#000" stroke-width=".5" opacity=".85"/>
<line x1="513.30" x2="513.30" y1="204.79" y2="283.39" stroke="#222" stroke-width=".55"/>
<rect x="511.67" y="204.79" width="3.25" height="59.20" fill="#e6670f" stroke="#4a1c00" stroke-width=".45"/>
<path d="M513.3 205.5V265.5" class="eo" stroke-dasharray="0 2.50"/>
<path d="M513.3 205.5V265.5" class="e" stroke-dasharray="0 2.50"/>
<path d="M513.3 270.1V283.4" class="eo" stroke-dasharray="0 4.43"/>
<path d="M513.3 270.1V283.4" class="e" stroke-dasharray="0 4.43"/>
<path d="M511.90 232.79l2.8 3.2m0 -3.2l-2.8 3.2" stroke="#000" stroke-width=".5" opacity=".85"/>
<text transform="translate(512.70,293.08) rotate(-90) scale(1,1.06)" text-anchor="end" class="x" font-size="8.7">KRAS</text>
<text transform="translate(6.9,189.20) rotate(-90)" text-anchor="end" class="y">Mean GI<tspan dy="1.9" font-size="5.2">50</tspan><tspan dy="-1.9"> concentration</tspan></text>
<text transform="translate(18.1,231.30) rotate(-90)" text-anchor="middle" class="y" letter-spacing=".22">log(mol/L)</text>
</g>
</svg>
</body></html>
